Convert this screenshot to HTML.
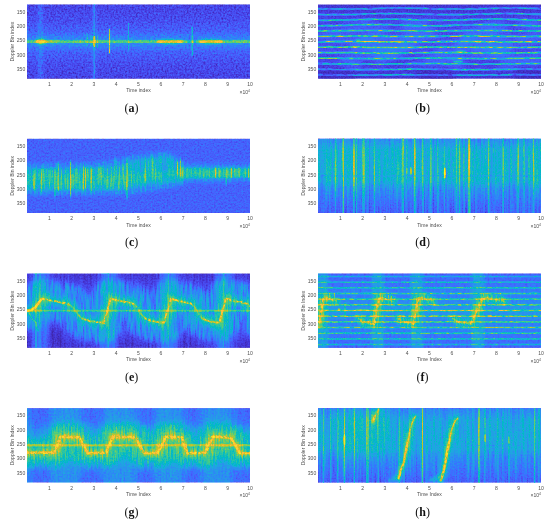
<!DOCTYPE html>
<html><head><meta charset="utf-8"><title>Spectrograms</title>
<style>
html,body{margin:0;padding:0;background:#fff;}
body{width:550px;height:522px;overflow:hidden;}
svg{display:block;}
text{font-family:"Liberation Sans",sans-serif;font-size:5.05px;fill:#505050;}
text.cap{font-family:"Liberation Serif",serif;font-size:12px;fill:#111;}
</style></head><body>
<svg width="550" height="522" viewBox="0 0 550 522">
<defs><filter id="b0" filterUnits="userSpaceOnUse" x="-30" y="-30" width="290" height="140" color-interpolation-filters="sRGB"><feGaussianBlur stdDeviation="0.4"/></filter><filter id="b1" filterUnits="userSpaceOnUse" x="-30" y="-30" width="290" height="140" color-interpolation-filters="sRGB"><feGaussianBlur stdDeviation="0.7"/></filter><filter id="b2" filterUnits="userSpaceOnUse" x="-30" y="-30" width="290" height="140" color-interpolation-filters="sRGB"><feGaussianBlur stdDeviation="1"/></filter><filter id="b3" filterUnits="userSpaceOnUse" x="-30" y="-30" width="290" height="140" color-interpolation-filters="sRGB"><feGaussianBlur stdDeviation="1.5"/></filter><filter id="b4" filterUnits="userSpaceOnUse" x="-30" y="-30" width="290" height="140" color-interpolation-filters="sRGB"><feGaussianBlur stdDeviation="2"/></filter><filter id="b5" filterUnits="userSpaceOnUse" x="-30" y="-30" width="290" height="140" color-interpolation-filters="sRGB"><feGaussianBlur stdDeviation="3"/></filter><filter id="b6" filterUnits="userSpaceOnUse" x="-30" y="-30" width="290" height="140" color-interpolation-filters="sRGB"><feGaussianBlur stdDeviation="5"/></filter><filter id="b7" filterUnits="userSpaceOnUse" x="-30" y="-30" width="290" height="140" color-interpolation-filters="sRGB"><feGaussianBlur stdDeviation="8"/></filter><filter id="bx" filterUnits="userSpaceOnUse" x="-30" y="-30" width="290" height="140" color-interpolation-filters="sRGB"><feGaussianBlur stdDeviation="3 0.6"/></filter><filter id="by" filterUnits="userSpaceOnUse" x="-30" y="-30" width="290" height="140" color-interpolation-filters="sRGB"><feGaussianBlur stdDeviation="0.5 4"/></filter><filter id="by2" filterUnits="userSpaceOnUse" x="-30" y="-30" width="290" height="140" color-interpolation-filters="sRGB"><feGaussianBlur stdDeviation="0.45 1.5"/></filter><filter id="byw" filterUnits="userSpaceOnUse" x="-30" y="-30" width="290" height="140" color-interpolation-filters="sRGB"><feGaussianBlur stdDeviation="3 6"/></filter><linearGradient id="ga" x1="0" y1="0" x2="0" y2="1"><stop offset="0" stop-color="rgb(255,255,255)" stop-opacity="0"/><stop offset="0.2" stop-color="rgb(255,255,255)" stop-opacity="0.03"/><stop offset="0.36" stop-color="rgb(255,255,255)" stop-opacity="0.09"/><stop offset="0.45" stop-color="rgb(255,255,255)" stop-opacity="0.19"/><stop offset="0.5" stop-color="rgb(255,255,255)" stop-opacity="0.27"/><stop offset="0.55" stop-color="rgb(255,255,255)" stop-opacity="0.19"/><stop offset="0.64" stop-color="rgb(255,255,255)" stop-opacity="0.09"/><stop offset="0.8" stop-color="rgb(255,255,255)" stop-opacity="0.03"/><stop offset="1" stop-color="rgb(255,255,255)" stop-opacity="0"/></linearGradient><linearGradient id="gb" x1="0" y1="0" x2="0" y2="1"><stop offset="0" stop-color="rgb(255,255,255)" stop-opacity="0.0"/><stop offset="0.5" stop-color="rgb(255,255,255)" stop-opacity="0.08"/><stop offset="1" stop-color="rgb(255,255,255)" stop-opacity="0.0"/></linearGradient><filter id="spb" filterUnits="userSpaceOnUse" x="-30" y="-30" width="290" height="140" color-interpolation-filters="sRGB"><feTurbulence type="fractalNoise" baseFrequency="0.2 0.6" numOctaves="2" seed="12"/><feColorMatrix type="matrix" values="0 0 0 0 1 0 0 0 0 1 0 0 0 0 1 1.5 0 0 0 -0.1" result="m"/><feComposite in="SourceGraphic" in2="m" operator="in"/><feGaussianBlur stdDeviation="0.5"/></filter><filter id="spb2" filterUnits="userSpaceOnUse" x="-30" y="-30" width="290" height="140" color-interpolation-filters="sRGB"><feTurbulence type="fractalNoise" baseFrequency="0.035 0.06" numOctaves="2" seed="4"/><feColorMatrix type="matrix" values="0 0 0 0 1 0 0 0 0 1 0 0 0 0 1 4.0 0 0 0 -1.5" result="m"/><feComposite in="SourceGraphic" in2="m" operator="in"/><feGaussianBlur stdDeviation="2.0"/></filter><filter id="spc" filterUnits="userSpaceOnUse" x="-30" y="-30" width="290" height="140" color-interpolation-filters="sRGB"><feTurbulence type="fractalNoise" baseFrequency="0.5 0.025" numOctaves="2" seed="21"/><feColorMatrix type="matrix" values="0 0 0 0 1 0 0 0 0 1 0 0 0 0 1 3.6 0 0 0 -1.45" result="m"/><feComposite in="SourceGraphic" in2="m" operator="in"/><feGaussianBlur stdDeviation="0.35"/></filter><filter id="spc2" filterUnits="userSpaceOnUse" x="-30" y="-30" width="290" height="140" color-interpolation-filters="sRGB"><feTurbulence type="fractalNoise" baseFrequency="0.45 0.04" numOctaves="2" seed="8"/><feColorMatrix type="matrix" values="0 0 0 0 1 0 0 0 0 1 0 0 0 0 1 3.5 0 0 0 -1.5" result="m"/><feComposite in="SourceGraphic" in2="m" operator="in"/><feGaussianBlur stdDeviation="0.3"/></filter><linearGradient id="gd" x1="0" y1="0" x2="0" y2="1"><stop offset="0" stop-color="rgb(0,0,0)" stop-opacity="0.08"/><stop offset="0.15" stop-color="rgb(0,0,0)" stop-opacity="0.01"/><stop offset="0.55" stop-color="rgb(0,0,0)" stop-opacity="0"/><stop offset="0.72" stop-color="rgb(0,0,0)" stop-opacity="0.1"/><stop offset="0.85" stop-color="rgb(0,0,0)" stop-opacity="0.2"/><stop offset="1" stop-color="rgb(0,0,0)" stop-opacity="0.28"/></linearGradient><filter id="spe" filterUnits="userSpaceOnUse" x="-30" y="-30" width="290" height="140" color-interpolation-filters="sRGB"><feTurbulence type="fractalNoise" baseFrequency="0.5 0.35" numOctaves="2" seed="33"/><feColorMatrix type="matrix" values="0 0 0 0 1 0 0 0 0 1 0 0 0 0 1 3.0 0 0 0 -0.9" result="m"/><feComposite in="SourceGraphic" in2="m" operator="in"/><feGaussianBlur stdDeviation="0.3"/></filter><filter id="spe2" filterUnits="userSpaceOnUse" x="-30" y="-30" width="290" height="140" color-interpolation-filters="sRGB"><feTurbulence type="fractalNoise" baseFrequency="0.5 0.05" numOctaves="2" seed="14"/><feColorMatrix type="matrix" values="0 0 0 0 1 0 0 0 0 1 0 0 0 0 1 3.0 0 0 0 -1.0" result="m"/><feComposite in="SourceGraphic" in2="m" operator="in"/><feGaussianBlur stdDeviation="0.5"/></filter><linearGradient id="gf" x1="0" y1="0" x2="0" y2="1"><stop offset="0" stop-color="rgb(0,0,0)" stop-opacity="0.3"/><stop offset="0.2" stop-color="rgb(0,0,0)" stop-opacity="0.05"/><stop offset="0.3" stop-color="rgb(255,255,255)" stop-opacity="0.0"/><stop offset="0.5" stop-color="rgb(255,255,255)" stop-opacity="0.1"/><stop offset="0.7" stop-color="rgb(255,255,255)" stop-opacity="0.0"/><stop offset="0.8" stop-color="rgb(0,0,0)" stop-opacity="0.05"/><stop offset="1" stop-color="rgb(0,0,0)" stop-opacity="0.25"/></linearGradient><filter id="spf" filterUnits="userSpaceOnUse" x="-30" y="-30" width="290" height="140" color-interpolation-filters="sRGB"><feTurbulence type="fractalNoise" baseFrequency="0.25 0.6" numOctaves="2" seed="41"/><feColorMatrix type="matrix" values="0 0 0 0 1 0 0 0 0 1 0 0 0 0 1 1.4 0 0 0 -0.05" result="m"/><feComposite in="SourceGraphic" in2="m" operator="in"/><feGaussianBlur stdDeviation="0.4"/></filter><filter id="spf2" filterUnits="userSpaceOnUse" x="-30" y="-30" width="290" height="140" color-interpolation-filters="sRGB"><feTurbulence type="fractalNoise" baseFrequency="0.5 0.4" numOctaves="2" seed="19"/><feColorMatrix type="matrix" values="0 0 0 0 1 0 0 0 0 1 0 0 0 0 1 3.0 0 0 0 -0.85" result="m"/><feComposite in="SourceGraphic" in2="m" operator="in"/><feGaussianBlur stdDeviation="0.45"/></filter><filter id="spf3" filterUnits="userSpaceOnUse" x="-30" y="-30" width="290" height="140" color-interpolation-filters="sRGB"><feTurbulence type="fractalNoise" baseFrequency="0.6 0.07" numOctaves="2" seed="27"/><feColorMatrix type="matrix" values="0 0 0 0 1 0 0 0 0 1 0 0 0 0 1 3.4 0 0 0 -1.2" result="m"/><feComposite in="SourceGraphic" in2="m" operator="in"/><feGaussianBlur stdDeviation="0.4"/></filter><filter id="spg" filterUnits="userSpaceOnUse" x="-30" y="-30" width="290" height="140" color-interpolation-filters="sRGB"><feTurbulence type="fractalNoise" baseFrequency="0.5 0.4" numOctaves="2" seed="51"/><feColorMatrix type="matrix" values="0 0 0 0 1 0 0 0 0 1 0 0 0 0 1 3.0 0 0 0 -0.8" result="m"/><feComposite in="SourceGraphic" in2="m" operator="in"/><feGaussianBlur stdDeviation="0.4"/></filter><filter id="spg2" filterUnits="userSpaceOnUse" x="-30" y="-30" width="290" height="140" color-interpolation-filters="sRGB"><feTurbulence type="fractalNoise" baseFrequency="0.6 0.06" numOctaves="2" seed="57"/><feColorMatrix type="matrix" values="0 0 0 0 1 0 0 0 0 1 0 0 0 0 1 3.4 0 0 0 -1.2" result="m"/><feComposite in="SourceGraphic" in2="m" operator="in"/><feGaussianBlur stdDeviation="0.4"/></filter><linearGradient id="gh" x1="0" y1="0" x2="0" y2="1"><stop offset="0" stop-color="rgb(0,0,0)" stop-opacity="0.08"/><stop offset="0.18" stop-color="rgb(0,0,0)" stop-opacity="0.01"/><stop offset="0.55" stop-color="rgb(0,0,0)" stop-opacity="0"/><stop offset="0.75" stop-color="rgb(0,0,0)" stop-opacity="0.1"/><stop offset="0.9" stop-color="rgb(0,0,0)" stop-opacity="0.2"/><stop offset="1" stop-color="rgb(0,0,0)" stop-opacity="0.28"/></linearGradient><filter id="sph" filterUnits="userSpaceOnUse" x="-30" y="-30" width="290" height="140" color-interpolation-filters="sRGB"><feTurbulence type="fractalNoise" baseFrequency="0.5 0.4" numOctaves="2" seed="61"/><feColorMatrix type="matrix" values="0 0 0 0 1 0 0 0 0 1 0 0 0 0 1 2.6 0 0 0 -0.5" result="m"/><feComposite in="SourceGraphic" in2="m" operator="in"/><feGaussianBlur stdDeviation="0.35"/></filter><filter id="fa" filterUnits="userSpaceOnUse" x="27" y="4.6" width="223" height="74" color-interpolation-filters="sRGB"><feTurbulence type="fractalNoise" baseFrequency="0.55" numOctaves="2" seed="3" result="n"/><feColorMatrix in="n" type="matrix" values="1 0 0 0 0 1 0 0 0 0 1 0 0 0 0 0 0 0 0 1" result="ng"/><feComposite in="SourceGraphic" in2="ng" operator="arithmetic" k1="0" k2="1" k3="0.32" k4="-0.16" result="s"/><feComponentTransfer in="s"><feFuncR type="table" tableValues="0.242 0.250 0.258 0.265 0.271 0.275 0.278 0.280 0.281 0.281 0.280 0.276 0.270 0.260 0.244 0.221 0.196 0.183 0.179 0.176 0.169 0.154 0.146 0.138 0.125 0.111 0.095 0.069 0.030 0.004 0.007 0.043 0.096 0.141 0.172 0.194 0.216 0.247 0.291 0.341 0.391 0.446 0.504 0.562 0.617 0.672 0.724 0.774 0.820 0.863 0.903 0.939 0.973 0.996 0.997 0.995 0.989 0.979 0.968 0.961 0.960 0.963 0.969 0.977"/><feFuncG type="table" tableValues="0.150 0.165 0.182 0.198 0.215 0.234 0.256 0.278 0.301 0.323 0.345 0.367 0.389 0.412 0.436 0.460 0.485 0.507 0.529 0.550 0.570 0.590 0.609 0.628 0.646 0.663 0.680 0.695 0.708 0.720 0.731 0.741 0.750 0.758 0.767 0.776 0.784 0.792 0.797 0.801 0.803 0.802 0.799 0.794 0.788 0.779 0.770 0.760 0.750 0.741 0.733 0.729 0.730 0.743 0.766 0.789 0.814 0.839 0.864 0.889 0.913 0.937 0.961 0.984"/><feFuncB type="table" tableValues="0.660 0.708 0.751 0.795 0.836 0.871 0.899 0.922 0.941 0.958 0.972 0.983 0.991 0.995 0.999 0.997 0.989 0.980 0.968 0.952 0.936 0.922 0.908 0.897 0.888 0.876 0.860 0.839 0.816 0.792 0.766 0.739 0.712 0.684 0.655 0.625 0.592 0.557 0.519 0.479 0.435 0.391 0.348 0.304 0.261 0.223 0.191 0.165 0.153 0.160 0.177 0.210 0.239 0.237 0.220 0.203 0.189 0.177 0.164 0.154 0.142 0.127 0.106 0.081"/></feComponentTransfer></filter><filter id="fb" filterUnits="userSpaceOnUse" x="318" y="4.6" width="223" height="74" color-interpolation-filters="sRGB"><feTurbulence type="fractalNoise" baseFrequency="0.6" numOctaves="2" seed="5" result="n"/><feColorMatrix in="n" type="matrix" values="1 0 0 0 0 1 0 0 0 0 1 0 0 0 0 0 0 0 0 1" result="ng"/><feComposite in="SourceGraphic" in2="ng" operator="arithmetic" k1="0" k2="1" k3="0.16" k4="-0.08" result="s"/><feComponentTransfer in="s"><feFuncR type="table" tableValues="0.242 0.250 0.258 0.265 0.271 0.275 0.278 0.280 0.281 0.281 0.280 0.276 0.270 0.260 0.244 0.221 0.196 0.183 0.179 0.176 0.169 0.154 0.146 0.138 0.125 0.111 0.095 0.069 0.030 0.004 0.007 0.043 0.096 0.141 0.172 0.194 0.216 0.247 0.291 0.341 0.391 0.446 0.504 0.562 0.617 0.672 0.724 0.774 0.820 0.863 0.903 0.939 0.973 0.996 0.997 0.995 0.989 0.979 0.968 0.961 0.960 0.963 0.969 0.977"/><feFuncG type="table" tableValues="0.150 0.165 0.182 0.198 0.215 0.234 0.256 0.278 0.301 0.323 0.345 0.367 0.389 0.412 0.436 0.460 0.485 0.507 0.529 0.550 0.570 0.590 0.609 0.628 0.646 0.663 0.680 0.695 0.708 0.720 0.731 0.741 0.750 0.758 0.767 0.776 0.784 0.792 0.797 0.801 0.803 0.802 0.799 0.794 0.788 0.779 0.770 0.760 0.750 0.741 0.733 0.729 0.730 0.743 0.766 0.789 0.814 0.839 0.864 0.889 0.913 0.937 0.961 0.984"/><feFuncB type="table" tableValues="0.660 0.708 0.751 0.795 0.836 0.871 0.899 0.922 0.941 0.958 0.972 0.983 0.991 0.995 0.999 0.997 0.989 0.980 0.968 0.952 0.936 0.922 0.908 0.897 0.888 0.876 0.860 0.839 0.816 0.792 0.766 0.739 0.712 0.684 0.655 0.625 0.592 0.557 0.519 0.479 0.435 0.391 0.348 0.304 0.261 0.223 0.191 0.165 0.153 0.160 0.177 0.210 0.239 0.237 0.220 0.203 0.189 0.177 0.164 0.154 0.142 0.127 0.106 0.081"/></feComponentTransfer></filter><filter id="fc" filterUnits="userSpaceOnUse" x="27" y="138.9" width="223" height="74" color-interpolation-filters="sRGB"><feTurbulence type="fractalNoise" baseFrequency="0.55" numOctaves="2" seed="11" result="n"/><feColorMatrix in="n" type="matrix" values="1 0 0 0 0 1 0 0 0 0 1 0 0 0 0 0 0 0 0 1" result="ng"/><feComposite in="SourceGraphic" in2="ng" operator="arithmetic" k1="0" k2="1" k3="0.24" k4="-0.12" result="s"/><feComponentTransfer in="s"><feFuncR type="table" tableValues="0.242 0.250 0.258 0.265 0.271 0.275 0.278 0.280 0.281 0.281 0.280 0.276 0.270 0.260 0.244 0.221 0.196 0.183 0.179 0.176 0.169 0.154 0.146 0.138 0.125 0.111 0.095 0.069 0.030 0.004 0.007 0.043 0.096 0.141 0.172 0.194 0.216 0.247 0.291 0.341 0.391 0.446 0.504 0.562 0.617 0.672 0.724 0.774 0.820 0.863 0.903 0.939 0.973 0.996 0.997 0.995 0.989 0.979 0.968 0.961 0.960 0.963 0.969 0.977"/><feFuncG type="table" tableValues="0.150 0.165 0.182 0.198 0.215 0.234 0.256 0.278 0.301 0.323 0.345 0.367 0.389 0.412 0.436 0.460 0.485 0.507 0.529 0.550 0.570 0.590 0.609 0.628 0.646 0.663 0.680 0.695 0.708 0.720 0.731 0.741 0.750 0.758 0.767 0.776 0.784 0.792 0.797 0.801 0.803 0.802 0.799 0.794 0.788 0.779 0.770 0.760 0.750 0.741 0.733 0.729 0.730 0.743 0.766 0.789 0.814 0.839 0.864 0.889 0.913 0.937 0.961 0.984"/><feFuncB type="table" tableValues="0.660 0.708 0.751 0.795 0.836 0.871 0.899 0.922 0.941 0.958 0.972 0.983 0.991 0.995 0.999 0.997 0.989 0.980 0.968 0.952 0.936 0.922 0.908 0.897 0.888 0.876 0.860 0.839 0.816 0.792 0.766 0.739 0.712 0.684 0.655 0.625 0.592 0.557 0.519 0.479 0.435 0.391 0.348 0.304 0.261 0.223 0.191 0.165 0.153 0.160 0.177 0.210 0.239 0.237 0.220 0.203 0.189 0.177 0.164 0.154 0.142 0.127 0.106 0.081"/></feComponentTransfer></filter><filter id="fd" filterUnits="userSpaceOnUse" x="318" y="138.9" width="223" height="74" color-interpolation-filters="sRGB"><feTurbulence type="fractalNoise" baseFrequency="0.6" numOctaves="2" seed="17" result="n"/><feColorMatrix in="n" type="matrix" values="1 0 0 0 0 1 0 0 0 0 1 0 0 0 0 0 0 0 0 1" result="ng"/><feComposite in="SourceGraphic" in2="ng" operator="arithmetic" k1="0" k2="1" k3="0.22" k4="-0.11" result="s"/><feTurbulence type="fractalNoise" baseFrequency="0.55 0.02" numOctaves="2" seed="4" result="m"/><feColorMatrix in="m" type="matrix" values="1 0 0 0 0 1 0 0 0 0 1 0 0 0 0 0 0 0 0 1" result="mg"/><feComposite in="s" in2="mg" operator="arithmetic" k1="0" k2="1" k3="0.3" k4="-0.15" result="s"/><feComponentTransfer in="s"><feFuncR type="table" tableValues="0.242 0.250 0.258 0.265 0.271 0.275 0.278 0.280 0.281 0.281 0.280 0.276 0.270 0.260 0.244 0.221 0.196 0.183 0.179 0.176 0.169 0.154 0.146 0.138 0.125 0.111 0.095 0.069 0.030 0.004 0.007 0.043 0.096 0.141 0.172 0.194 0.216 0.247 0.291 0.341 0.391 0.446 0.504 0.562 0.617 0.672 0.724 0.774 0.820 0.863 0.903 0.939 0.973 0.996 0.997 0.995 0.989 0.979 0.968 0.961 0.960 0.963 0.969 0.977"/><feFuncG type="table" tableValues="0.150 0.165 0.182 0.198 0.215 0.234 0.256 0.278 0.301 0.323 0.345 0.367 0.389 0.412 0.436 0.460 0.485 0.507 0.529 0.550 0.570 0.590 0.609 0.628 0.646 0.663 0.680 0.695 0.708 0.720 0.731 0.741 0.750 0.758 0.767 0.776 0.784 0.792 0.797 0.801 0.803 0.802 0.799 0.794 0.788 0.779 0.770 0.760 0.750 0.741 0.733 0.729 0.730 0.743 0.766 0.789 0.814 0.839 0.864 0.889 0.913 0.937 0.961 0.984"/><feFuncB type="table" tableValues="0.660 0.708 0.751 0.795 0.836 0.871 0.899 0.922 0.941 0.958 0.972 0.983 0.991 0.995 0.999 0.997 0.989 0.980 0.968 0.952 0.936 0.922 0.908 0.897 0.888 0.876 0.860 0.839 0.816 0.792 0.766 0.739 0.712 0.684 0.655 0.625 0.592 0.557 0.519 0.479 0.435 0.391 0.348 0.304 0.261 0.223 0.191 0.165 0.153 0.160 0.177 0.210 0.239 0.237 0.220 0.203 0.189 0.177 0.164 0.154 0.142 0.127 0.106 0.081"/></feComponentTransfer></filter><filter id="fe" filterUnits="userSpaceOnUse" x="27" y="273.7" width="223" height="74" color-interpolation-filters="sRGB"><feTurbulence type="fractalNoise" baseFrequency="0.6" numOctaves="2" seed="23" result="n"/><feColorMatrix in="n" type="matrix" values="1 0 0 0 0 1 0 0 0 0 1 0 0 0 0 0 0 0 0 1" result="ng"/><feComposite in="SourceGraphic" in2="ng" operator="arithmetic" k1="0" k2="1" k3="0.16" k4="-0.08" result="s"/><feTurbulence type="fractalNoise" baseFrequency="0.5 0.04" numOctaves="2" seed="9" result="m"/><feColorMatrix in="m" type="matrix" values="1 0 0 0 0 1 0 0 0 0 1 0 0 0 0 0 0 0 0 1" result="mg"/><feComposite in="s" in2="mg" operator="arithmetic" k1="0" k2="1" k3="0.16" k4="-0.08" result="s"/><feComponentTransfer in="s"><feFuncR type="table" tableValues="0.242 0.250 0.258 0.265 0.271 0.275 0.278 0.280 0.281 0.281 0.280 0.276 0.270 0.260 0.244 0.221 0.196 0.183 0.179 0.176 0.169 0.154 0.146 0.138 0.125 0.111 0.095 0.069 0.030 0.004 0.007 0.043 0.096 0.141 0.172 0.194 0.216 0.247 0.291 0.341 0.391 0.446 0.504 0.562 0.617 0.672 0.724 0.774 0.820 0.863 0.903 0.939 0.973 0.996 0.997 0.995 0.989 0.979 0.968 0.961 0.960 0.963 0.969 0.977"/><feFuncG type="table" tableValues="0.150 0.165 0.182 0.198 0.215 0.234 0.256 0.278 0.301 0.323 0.345 0.367 0.389 0.412 0.436 0.460 0.485 0.507 0.529 0.550 0.570 0.590 0.609 0.628 0.646 0.663 0.680 0.695 0.708 0.720 0.731 0.741 0.750 0.758 0.767 0.776 0.784 0.792 0.797 0.801 0.803 0.802 0.799 0.794 0.788 0.779 0.770 0.760 0.750 0.741 0.733 0.729 0.730 0.743 0.766 0.789 0.814 0.839 0.864 0.889 0.913 0.937 0.961 0.984"/><feFuncB type="table" tableValues="0.660 0.708 0.751 0.795 0.836 0.871 0.899 0.922 0.941 0.958 0.972 0.983 0.991 0.995 0.999 0.997 0.989 0.980 0.968 0.952 0.936 0.922 0.908 0.897 0.888 0.876 0.860 0.839 0.816 0.792 0.766 0.739 0.712 0.684 0.655 0.625 0.592 0.557 0.519 0.479 0.435 0.391 0.348 0.304 0.261 0.223 0.191 0.165 0.153 0.160 0.177 0.210 0.239 0.237 0.220 0.203 0.189 0.177 0.164 0.154 0.142 0.127 0.106 0.081"/></feComponentTransfer></filter><filter id="ff" filterUnits="userSpaceOnUse" x="318" y="273.7" width="223" height="74" color-interpolation-filters="sRGB"><feTurbulence type="fractalNoise" baseFrequency="0.5" numOctaves="2" seed="29" result="n"/><feColorMatrix in="n" type="matrix" values="1 0 0 0 0 1 0 0 0 0 1 0 0 0 0 0 0 0 0 1" result="ng"/><feComposite in="SourceGraphic" in2="ng" operator="arithmetic" k1="0" k2="1" k3="0.2" k4="-0.1" result="s"/><feTurbulence type="fractalNoise" baseFrequency="0.5 0.05" numOctaves="2" seed="2" result="m"/><feColorMatrix in="m" type="matrix" values="1 0 0 0 0 1 0 0 0 0 1 0 0 0 0 0 0 0 0 1" result="mg"/><feComposite in="s" in2="mg" operator="arithmetic" k1="0" k2="1" k3="0.1" k4="-0.05" result="s"/><feComponentTransfer in="s"><feFuncR type="table" tableValues="0.242 0.250 0.258 0.265 0.271 0.275 0.278 0.280 0.281 0.281 0.280 0.276 0.270 0.260 0.244 0.221 0.196 0.183 0.179 0.176 0.169 0.154 0.146 0.138 0.125 0.111 0.095 0.069 0.030 0.004 0.007 0.043 0.096 0.141 0.172 0.194 0.216 0.247 0.291 0.341 0.391 0.446 0.504 0.562 0.617 0.672 0.724 0.774 0.820 0.863 0.903 0.939 0.973 0.996 0.997 0.995 0.989 0.979 0.968 0.961 0.960 0.963 0.969 0.977"/><feFuncG type="table" tableValues="0.150 0.165 0.182 0.198 0.215 0.234 0.256 0.278 0.301 0.323 0.345 0.367 0.389 0.412 0.436 0.460 0.485 0.507 0.529 0.550 0.570 0.590 0.609 0.628 0.646 0.663 0.680 0.695 0.708 0.720 0.731 0.741 0.750 0.758 0.767 0.776 0.784 0.792 0.797 0.801 0.803 0.802 0.799 0.794 0.788 0.779 0.770 0.760 0.750 0.741 0.733 0.729 0.730 0.743 0.766 0.789 0.814 0.839 0.864 0.889 0.913 0.937 0.961 0.984"/><feFuncB type="table" tableValues="0.660 0.708 0.751 0.795 0.836 0.871 0.899 0.922 0.941 0.958 0.972 0.983 0.991 0.995 0.999 0.997 0.989 0.980 0.968 0.952 0.936 0.922 0.908 0.897 0.888 0.876 0.860 0.839 0.816 0.792 0.766 0.739 0.712 0.684 0.655 0.625 0.592 0.557 0.519 0.479 0.435 0.391 0.348 0.304 0.261 0.223 0.191 0.165 0.153 0.160 0.177 0.210 0.239 0.237 0.220 0.203 0.189 0.177 0.164 0.154 0.142 0.127 0.106 0.081"/></feComponentTransfer></filter><filter id="fg" filterUnits="userSpaceOnUse" x="27" y="408.3" width="223" height="74" color-interpolation-filters="sRGB"><feTurbulence type="fractalNoise" baseFrequency="0.55" numOctaves="2" seed="31" result="n"/><feColorMatrix in="n" type="matrix" values="1 0 0 0 0 1 0 0 0 0 1 0 0 0 0 0 0 0 0 1" result="ng"/><feComposite in="SourceGraphic" in2="ng" operator="arithmetic" k1="0" k2="1" k3="0.22" k4="-0.11" result="s"/><feTurbulence type="fractalNoise" baseFrequency="0.5 0.05" numOctaves="2" seed="6" result="m"/><feColorMatrix in="m" type="matrix" values="1 0 0 0 0 1 0 0 0 0 1 0 0 0 0 0 0 0 0 1" result="mg"/><feComposite in="s" in2="mg" operator="arithmetic" k1="0" k2="1" k3="0.14" k4="-0.07" result="s"/><feComponentTransfer in="s"><feFuncR type="table" tableValues="0.242 0.250 0.258 0.265 0.271 0.275 0.278 0.280 0.281 0.281 0.280 0.276 0.270 0.260 0.244 0.221 0.196 0.183 0.179 0.176 0.169 0.154 0.146 0.138 0.125 0.111 0.095 0.069 0.030 0.004 0.007 0.043 0.096 0.141 0.172 0.194 0.216 0.247 0.291 0.341 0.391 0.446 0.504 0.562 0.617 0.672 0.724 0.774 0.820 0.863 0.903 0.939 0.973 0.996 0.997 0.995 0.989 0.979 0.968 0.961 0.960 0.963 0.969 0.977"/><feFuncG type="table" tableValues="0.150 0.165 0.182 0.198 0.215 0.234 0.256 0.278 0.301 0.323 0.345 0.367 0.389 0.412 0.436 0.460 0.485 0.507 0.529 0.550 0.570 0.590 0.609 0.628 0.646 0.663 0.680 0.695 0.708 0.720 0.731 0.741 0.750 0.758 0.767 0.776 0.784 0.792 0.797 0.801 0.803 0.802 0.799 0.794 0.788 0.779 0.770 0.760 0.750 0.741 0.733 0.729 0.730 0.743 0.766 0.789 0.814 0.839 0.864 0.889 0.913 0.937 0.961 0.984"/><feFuncB type="table" tableValues="0.660 0.708 0.751 0.795 0.836 0.871 0.899 0.922 0.941 0.958 0.972 0.983 0.991 0.995 0.999 0.997 0.989 0.980 0.968 0.952 0.936 0.922 0.908 0.897 0.888 0.876 0.860 0.839 0.816 0.792 0.766 0.739 0.712 0.684 0.655 0.625 0.592 0.557 0.519 0.479 0.435 0.391 0.348 0.304 0.261 0.223 0.191 0.165 0.153 0.160 0.177 0.210 0.239 0.237 0.220 0.203 0.189 0.177 0.164 0.154 0.142 0.127 0.106 0.081"/></feComponentTransfer></filter><filter id="fh" filterUnits="userSpaceOnUse" x="318" y="408.3" width="223" height="74" color-interpolation-filters="sRGB"><feTurbulence type="fractalNoise" baseFrequency="0.6" numOctaves="2" seed="37" result="n"/><feColorMatrix in="n" type="matrix" values="1 0 0 0 0 1 0 0 0 0 1 0 0 0 0 0 0 0 0 1" result="ng"/><feComposite in="SourceGraphic" in2="ng" operator="arithmetic" k1="0" k2="1" k3="0.2" k4="-0.1" result="s"/><feTurbulence type="fractalNoise" baseFrequency="0.55 0.025" numOctaves="2" seed="8" result="m"/><feColorMatrix in="m" type="matrix" values="1 0 0 0 0 1 0 0 0 0 1 0 0 0 0 0 0 0 0 1" result="mg"/><feComposite in="s" in2="mg" operator="arithmetic" k1="0" k2="1" k3="0.24" k4="-0.12" result="s"/><feComponentTransfer in="s"><feFuncR type="table" tableValues="0.242 0.250 0.258 0.265 0.271 0.275 0.278 0.280 0.281 0.281 0.280 0.276 0.270 0.260 0.244 0.221 0.196 0.183 0.179 0.176 0.169 0.154 0.146 0.138 0.125 0.111 0.095 0.069 0.030 0.004 0.007 0.043 0.096 0.141 0.172 0.194 0.216 0.247 0.291 0.341 0.391 0.446 0.504 0.562 0.617 0.672 0.724 0.774 0.820 0.863 0.903 0.939 0.973 0.996 0.997 0.995 0.989 0.979 0.968 0.961 0.960 0.963 0.969 0.977"/><feFuncG type="table" tableValues="0.150 0.165 0.182 0.198 0.215 0.234 0.256 0.278 0.301 0.323 0.345 0.367 0.389 0.412 0.436 0.460 0.485 0.507 0.529 0.550 0.570 0.590 0.609 0.628 0.646 0.663 0.680 0.695 0.708 0.720 0.731 0.741 0.750 0.758 0.767 0.776 0.784 0.792 0.797 0.801 0.803 0.802 0.799 0.794 0.788 0.779 0.770 0.760 0.750 0.741 0.733 0.729 0.730 0.743 0.766 0.789 0.814 0.839 0.864 0.889 0.913 0.937 0.961 0.984"/><feFuncB type="table" tableValues="0.660 0.708 0.751 0.795 0.836 0.871 0.899 0.922 0.941 0.958 0.972 0.983 0.991 0.995 0.999 0.997 0.989 0.980 0.968 0.952 0.936 0.922 0.908 0.897 0.888 0.876 0.860 0.839 0.816 0.792 0.766 0.739 0.712 0.684 0.655 0.625 0.592 0.557 0.519 0.479 0.435 0.391 0.348 0.304 0.261 0.223 0.191 0.165 0.153 0.160 0.177 0.210 0.239 0.237 0.220 0.203 0.189 0.177 0.164 0.154 0.142 0.127 0.106 0.081"/></feComponentTransfer></filter></defs>
<rect width="550" height="522" fill="#fff"/>
<g filter="url(#fa)"><g transform="translate(27,4.6)"><rect x="0.0" y="0.0" width="223.0" height="74.0" fill="rgb(26,26,26)" opacity="1"/><rect x="0" y="0" width="223" height="74" fill="url(#ga)"/><rect x="-5.0" y="35.6" width="233.0" height="2.8" fill="rgb(255,255,255)" opacity="0.42" filter="url(#b1)"/><rect x="11.00" y="-5.0" width="5" height="84.0" fill="rgb(255,255,255)" opacity="0.1" filter="url(#b3)"/><rect x="66.70" y="-3.0" width="1.0" height="80.0" fill="rgb(255,255,255)" opacity="0.22" filter="url(#b0)"/><rect x="64.70" y="-3.0" width="5" height="80.0" fill="rgb(255,255,255)" opacity="0.06" filter="url(#b2)"/><ellipse cx="14.0" cy="37.0" rx="5.5" ry="2.4" fill="rgb(255,255,255)" opacity="0.8" filter="url(#b2)"/><ellipse cx="24.0" cy="37.0" rx="9.0" ry="1.6" fill="rgb(255,255,255)" opacity="0.3" filter="url(#b2)"/><ellipse cx="53.0" cy="37.0" rx="6.0" ry="1.2" fill="rgb(255,255,255)" opacity="0.2" filter="url(#b2)"/><ellipse cx="67.2" cy="37.0" rx="1.6" ry="6.0" fill="rgb(255,255,255)" opacity="0.6" filter="url(#b1)"/><rect x="59.75" y="29.0" width="0.9" height="13.0" fill="rgb(255,255,255)" opacity="0.4" filter="url(#b0)"/><rect x="63.55" y="31.0" width="0.9" height="11.0" fill="rgb(255,255,255)" opacity="0.4" filter="url(#b0)"/><rect x="70.05" y="31.0" width="0.9" height="12.0" fill="rgb(255,255,255)" opacity="0.4" filter="url(#b0)"/><rect x="81.90" y="24.0" width="1.2" height="25.0" fill="rgb(255,255,255)" opacity="0.7" filter="url(#b0)"/><rect x="100.95" y="18.0" width="0.9" height="28.0" fill="rgb(255,255,255)" opacity="0.3" filter="url(#b0)"/><ellipse cx="143.0" cy="37.0" rx="13.0" ry="2.0" fill="rgb(255,255,255)" opacity="0.5" filter="url(#b2)"/><ellipse cx="134.0" cy="37.0" rx="4.0" ry="1.6" fill="rgb(255,255,255)" opacity="0.35" filter="url(#b1)"/><ellipse cx="153.0" cy="37.0" rx="4.0" ry="1.6" fill="rgb(255,255,255)" opacity="0.35" filter="url(#b1)"/><rect x="164.70" y="22.0" width="1.0" height="29.0" fill="rgb(255,255,255)" opacity="0.45" filter="url(#b0)"/><rect x="161.50" y="33.0" width="2" height="8.0" fill="rgb(0,0,0)" opacity="0.3" filter="url(#b1)"/><rect x="167.00" y="33.0" width="2" height="8.0" fill="rgb(0,0,0)" opacity="0.3" filter="url(#b1)"/><ellipse cx="183.0" cy="37.0" rx="12.0" ry="2.0" fill="rgb(255,255,255)" opacity="0.5" filter="url(#b2)"/><ellipse cx="176.0" cy="37.0" rx="4.0" ry="1.6" fill="rgb(255,255,255)" opacity="0.35" filter="url(#b1)"/><ellipse cx="192.0" cy="37.0" rx="4.0" ry="1.8" fill="rgb(255,255,255)" opacity="0.45" filter="url(#b1)"/><ellipse cx="212.0" cy="37.0" rx="10.0" ry="1.2" fill="rgb(255,255,255)" opacity="0.15" filter="url(#b2)"/></g></g><g filter="url(#fb)"><g transform="translate(318,4.6)"><rect x="0.0" y="0.0" width="223.0" height="74.0" fill="rgb(15,15,15)" opacity="1"/><rect x="0" y="0" width="223" height="74" fill="url(#gb)"/><g filter="url(#spb)"><polyline points="-4.0,3.9 2.0,4.1 8.0,4.3 14.0,4.4 20.0,4.5 26.0,4.6 32.0,4.6 38.0,4.5 44.0,4.4 50.0,4.2 56.0,4.0 62.0,3.8 68.0,3.6 74.0,3.5 80.0,3.4 86.0,3.4 92.0,3.5 98.0,3.6 104.0,3.8 110.0,3.9 116.0,4.2 122.0,4.3 128.0,4.5 134.0,4.6 140.0,4.6 146.0,4.6 152.0,4.5 158.0,4.3 164.0,4.1 170.0,3.9 176.0,3.7 182.0,3.6 188.0,3.4 194.0,3.4 200.0,3.4 206.0,3.5 212.0,3.7 218.0,3.8 224.0,4.0 230.0,4.2" fill="none" stroke="rgb(255,255,255)" stroke-width="1.7" opacity="0.46081081081081077" stroke-linejoin="round" stroke-linecap="round" /><polyline points="-4.0,9.7 2.0,9.9 8.0,10.0 14.0,10.1 20.0,10.1 26.0,10.1 32.0,10.0 38.0,9.8 44.0,9.6 50.0,9.4 56.0,9.2 62.0,9.1 68.0,9.0 74.0,8.9 80.0,9.0 86.0,9.0 92.0,9.2 98.0,9.4 104.0,9.6 110.0,9.8 116.0,9.9 122.0,10.1 128.0,10.1 134.0,10.1 140.0,10.0 146.0,9.9 152.0,9.7 158.0,9.5 164.0,9.3 170.0,9.2 176.0,9.0 182.0,8.9 188.0,8.9 194.0,9.0 200.0,9.1 206.0,9.3 212.0,9.5 218.0,9.7 224.0,9.8 230.0,10.0" fill="none" stroke="rgb(255,255,255)" stroke-width="1.7" opacity="0.5205945945945946" stroke-linejoin="round" stroke-linecap="round" /><polyline points="-4.0,15.5 2.0,15.6 8.0,15.7 14.0,15.6 20.0,15.6 26.0,15.4 32.0,15.3 38.0,15.1 44.0,14.9 50.0,14.7 56.0,14.6 62.0,14.5 68.0,14.5 74.0,14.5 80.0,14.6 86.0,14.8 92.0,15.0 98.0,15.2 104.0,15.4 110.0,15.5 116.0,15.6 122.0,15.7 128.0,15.6 134.0,15.5 140.0,15.4 146.0,15.2 152.0,15.0 158.0,14.8 164.0,14.6 170.0,14.5 176.0,14.5 182.0,14.5 188.0,14.6 194.0,14.7 200.0,14.9 206.0,15.1 212.0,15.3 218.0,15.5 224.0,15.6 230.0,15.7" fill="none" stroke="rgb(255,255,255)" stroke-width="1.7" opacity="0.5803783783783785" stroke-linejoin="round" stroke-linecap="round" /><polyline points="-4.0,21.2 2.0,21.2 8.0,21.1 14.0,21.0 20.0,20.9 26.0,20.7 32.0,20.5 38.0,20.3 44.0,20.1 50.0,20.0 56.0,20.0 62.0,20.0 68.0,20.1 74.0,20.2 80.0,20.4 86.0,20.6 92.0,20.8 98.0,21.0 104.0,21.1 110.0,21.2 116.0,21.2 122.0,21.1 128.0,21.0 134.0,20.8 140.0,20.6 146.0,20.4 152.0,20.2 158.0,20.1 164.0,20.0 170.0,20.0 176.0,20.0 182.0,20.2 188.0,20.3 194.0,20.5 200.0,20.7 206.0,20.9 212.0,21.1 218.0,21.2 224.0,21.2 230.0,21.2" fill="none" stroke="rgb(255,255,255)" stroke-width="1.7" opacity="0.6401621621621622" stroke-linejoin="round" stroke-linecap="round" /><polyline points="-4.0,26.4 2.0,26.3 8.0,26.3 14.0,26.2 20.0,26.1 26.0,26.0 32.0,26.0 38.0,25.9 44.0,25.9 50.0,25.9 56.0,25.9 62.0,25.9 68.0,26.0 74.0,26.1 80.0,26.2 86.0,26.2 92.0,26.3 98.0,26.3 104.0,26.4 110.0,26.3 116.0,26.3 122.0,26.2 128.0,26.2 134.0,26.1 140.0,26.0 146.0,25.9 152.0,25.9 158.0,25.9 164.0,25.9 170.0,25.9 176.0,26.0 182.0,26.0 188.0,26.1 194.0,26.2 200.0,26.3 206.0,26.3 212.0,26.4 218.0,26.4 224.0,26.3 230.0,26.3" fill="none" stroke="rgb(255,255,255)" stroke-width="1.7" opacity="0.699945945945946" stroke-linejoin="round" stroke-linecap="round" /><polyline points="-4.0,31.8 2.0,31.8 8.0,31.7 14.0,31.6 20.0,31.5 26.0,31.5 32.0,31.4 38.0,31.4 44.0,31.4 50.0,31.5 56.0,31.5 62.0,31.6 68.0,31.7 74.0,31.7 80.0,31.8 86.0,31.9 92.0,31.9 98.0,31.9 104.0,31.9 110.0,31.8 116.0,31.7 122.0,31.7 128.0,31.6 134.0,31.5 140.0,31.5 146.0,31.4 152.0,31.4 158.0,31.4 164.0,31.5 170.0,31.5 176.0,31.6 182.0,31.7 188.0,31.8 194.0,31.8 200.0,31.9 206.0,31.9 212.0,31.9 218.0,31.8 224.0,31.8 230.0,31.7" fill="none" stroke="rgb(255,255,255)" stroke-width="1.7" opacity="0.7597297297297297" stroke-linejoin="round" stroke-linecap="round" /><polyline points="-4.0,37.3 2.0,37.2 8.0,37.1 14.0,37.0 20.0,37.0 26.0,36.9 32.0,36.9 38.0,37.0 44.0,37.0 50.0,37.1 56.0,37.1 62.0,37.2 68.0,37.3 74.0,37.4 80.0,37.4 86.0,37.4 92.0,37.4 98.0,37.4 104.0,37.3 110.0,37.2 116.0,37.2 122.0,37.1 128.0,37.0 134.0,37.0 140.0,36.9 146.0,36.9 152.0,37.0 158.0,37.0 164.0,37.1 170.0,37.2 176.0,37.3 182.0,37.3 188.0,37.4 194.0,37.4 200.0,37.4 206.0,37.4 212.0,37.3 218.0,37.3 224.0,37.2 230.0,37.1" fill="none" stroke="rgb(255,255,255)" stroke-width="1.7" opacity="0.8195135135135135" stroke-linejoin="round" stroke-linecap="round" /><polyline points="-4.0,42.7 2.0,42.6 8.0,42.5 14.0,42.5 20.0,42.5 26.0,42.5 32.0,42.5 38.0,42.6 44.0,42.6 50.0,42.7 56.0,42.8 62.0,42.9 68.0,42.9 74.0,42.9 80.0,42.9 86.0,42.9 92.0,42.9 98.0,42.8 104.0,42.7 110.0,42.6 116.0,42.6 122.0,42.5 128.0,42.5 134.0,42.5 140.0,42.5 146.0,42.5 152.0,42.6 158.0,42.7 164.0,42.8 170.0,42.8 176.0,42.9 182.0,42.9 188.0,42.9 194.0,42.9 200.0,42.9 206.0,42.8 212.0,42.8 218.0,42.7 224.0,42.6 230.0,42.5" fill="none" stroke="rgb(255,255,255)" stroke-width="1.7" opacity="0.8207027027027026" stroke-linejoin="round" stroke-linecap="round" /><polyline points="-4.0,48.1 2.0,48.0 8.0,48.0 14.0,48.0 20.0,48.0 26.0,48.1 32.0,48.1 38.0,48.2 44.0,48.3 50.0,48.4 56.0,48.4 62.0,48.5 68.0,48.5 74.0,48.5 80.0,48.4 86.0,48.4 92.0,48.3 98.0,48.2 104.0,48.1 110.0,48.1 116.0,48.0 122.0,48.0 128.0,48.0 134.0,48.0 140.0,48.1 146.0,48.2 152.0,48.2 158.0,48.3 164.0,48.4 170.0,48.4 176.0,48.5 182.0,48.5 188.0,48.5 194.0,48.4 200.0,48.3 206.0,48.3 212.0,48.2 218.0,48.1 224.0,48.0 230.0,48.0" fill="none" stroke="rgb(255,255,255)" stroke-width="1.7" opacity="0.7609189189189188" stroke-linejoin="round" stroke-linecap="round" /><polyline points="-4.0,53.6 2.0,53.5 8.0,53.5 14.0,53.6 20.0,53.6 26.0,53.7 32.0,53.8 38.0,53.9 44.0,53.9 50.0,54.0 56.0,54.0 62.0,54.0 68.0,54.0 74.0,53.9 80.0,53.9 86.0,53.8 92.0,53.7 98.0,53.6 104.0,53.6 110.0,53.5 116.0,53.5 122.0,53.5 128.0,53.6 134.0,53.7 140.0,53.7 146.0,53.8 152.0,53.9 158.0,53.9 164.0,54.0 170.0,54.0 176.0,54.0 182.0,54.0 188.0,53.9 194.0,53.8 200.0,53.8 206.0,53.7 212.0,53.6 218.0,53.6 224.0,53.5 230.0,53.5" fill="none" stroke="rgb(255,255,255)" stroke-width="1.7" opacity="0.701135135135135" stroke-linejoin="round" stroke-linecap="round" /><polyline points="-4.0,59.1 2.0,59.1 8.0,59.1 14.0,59.2 20.0,59.3 26.0,59.3 32.0,59.4 38.0,59.5 44.0,59.5 50.0,59.5 56.0,59.5 62.0,59.5 68.0,59.4 74.0,59.4 80.0,59.3 86.0,59.2 92.0,59.1 98.0,59.1 104.0,59.1 110.0,59.1 116.0,59.1 122.0,59.1 128.0,59.2 134.0,59.3 140.0,59.4 146.0,59.4 152.0,59.5 158.0,59.5 164.0,59.5 170.0,59.5 176.0,59.5 182.0,59.4 188.0,59.3 194.0,59.2 200.0,59.2 206.0,59.1 212.0,59.1 218.0,59.1 224.0,59.1 230.0,59.1" fill="none" stroke="rgb(255,255,255)" stroke-width="1.7" opacity="0.6413513513513512" stroke-linejoin="round" stroke-linecap="round" /><polyline points="-4.0,64.6 2.0,64.7 8.0,64.8 14.0,64.8 20.0,64.9 26.0,65.0 32.0,65.0 38.0,65.1 44.0,65.1 50.0,65.0 56.0,65.0 62.0,64.9 68.0,64.9 74.0,64.8 80.0,64.7 86.0,64.6 92.0,64.6 98.0,64.6 104.0,64.6 110.0,64.6 116.0,64.7 122.0,64.8 128.0,64.9 134.0,64.9 140.0,65.0 146.0,65.1 152.0,65.1 158.0,65.1 164.0,65.0 170.0,65.0 176.0,64.9 182.0,64.8 188.0,64.7 194.0,64.7 200.0,64.6 206.0,64.6 212.0,64.6 218.0,64.6 224.0,64.7 230.0,64.7" fill="none" stroke="rgb(255,255,255)" stroke-width="1.7" opacity="0.5815675675675673" stroke-linejoin="round" stroke-linecap="round" /><polyline points="-4.0,70.2 2.0,70.3 8.0,70.4 14.0,70.5 20.0,70.5 26.0,70.6 32.0,70.6 38.0,70.6 44.0,70.6 50.0,70.5 56.0,70.4 62.0,70.3 68.0,70.3 74.0,70.2 80.0,70.1 86.0,70.1 92.0,70.1 98.0,70.2 104.0,70.2 110.0,70.3 116.0,70.4 122.0,70.4 128.0,70.5 134.0,70.6 140.0,70.6 146.0,70.6 152.0,70.6 158.0,70.5 164.0,70.5 170.0,70.4 176.0,70.3 182.0,70.2 188.0,70.2 194.0,70.1 200.0,70.1 206.0,70.1 212.0,70.2 218.0,70.2 224.0,70.3 230.0,70.4" fill="none" stroke="rgb(255,255,255)" stroke-width="1.7" opacity="0.5217837837837838" stroke-linejoin="round" stroke-linecap="round" /></g><g filter="url(#spb2)"><rect x="0.0" y="14.0" width="223.0" height="50.0" fill="rgb(255,255,255)" opacity="0.1"/></g><ellipse cx="18.0" cy="70.0" rx="20.0" ry="9.0" fill="rgb(0,0,0)" opacity="0.4" filter="url(#b4)"/><ellipse cx="118.0" cy="70.0" rx="20.0" ry="9.0" fill="rgb(0,0,0)" opacity="0.4" filter="url(#b4)"/><ellipse cx="214.0" cy="70.0" rx="20.0" ry="9.0" fill="rgb(0,0,0)" opacity="0.4" filter="url(#b4)"/><ellipse cx="62.0" cy="42.0" rx="30.0" ry="12.0" fill="rgb(255,255,255)" opacity="0.08" filter="url(#b4)"/><ellipse cx="165.0" cy="42.0" rx="30.0" ry="12.0" fill="rgb(255,255,255)" opacity="0.08" filter="url(#b4)"/><ellipse cx="143.0" cy="47.0" rx="5.0" ry="1.0" fill="rgb(255,255,255)" opacity="0.4" filter="url(#b1)"/><ellipse cx="140.0" cy="57.0" rx="5.0" ry="1.0" fill="rgb(255,255,255)" opacity="0.4" filter="url(#b1)"/><ellipse cx="80.0" cy="37.0" rx="8.0" ry="1.0" fill="rgb(255,255,255)" opacity="0.3" filter="url(#b1)"/><ellipse cx="160.0" cy="37.0" rx="3.0" ry="1.3" fill="rgb(255,255,255)" opacity="0.4" filter="url(#b1)"/><ellipse cx="40.0" cy="36.0" rx="2.0" ry="1.5" fill="rgb(255,255,255)" opacity="0.35" filter="url(#b1)"/></g></g><g filter="url(#fc)"><g transform="translate(27,138.9)"><rect x="0.0" y="0.0" width="223.0" height="74.0" fill="rgb(48,48,48)" opacity="1"/><polygon points="-8.0,25.0 60.0,24.0 90.0,21.0 108.0,15.0 140.0,13.0 152.0,18.0 158.0,25.0 231.0,26.0 231.0,42.0 160.0,44.0 150.0,48.0 120.0,53.0 100.0,56.0 -8.0,56.0" fill="rgb(255,255,255)" opacity="0.09" filter="url(#b4)"/><polygon points="-8.0,30.0 60.0,29.0 90.0,27.0 100.0,25.0 100.0,51.0 -8.0,51.0" fill="rgb(255,255,255)" opacity="0.13" filter="url(#b3)"/><polygon points="98.0,25.0 108.0,20.0 140.0,18.0 150.0,22.0 156.0,28.0 156.0,41.0 150.0,43.0 120.0,46.0 98.0,50.0" fill="rgb(255,255,255)" opacity="0.1" filter="url(#b3)"/><polygon points="154.0,28.5 231.0,29.0 231.0,38.5 154.0,40.0" fill="rgb(255,255,255)" opacity="0.18" filter="url(#b2)"/><polygon points="-8.0,35.0 100.0,35.0 150.0,30.5 231.0,31.0 231.0,36.5 150.0,37.5 100.0,46.0 -8.0,46.0" fill="rgb(255,255,255)" opacity="0.12" filter="url(#b3)"/><g filter="url(#spc2)"><polygon points="-8.0,25.0 60.0,24.0 90.0,21.0 108.0,15.0 140.0,13.0 152.0,18.0 158.0,25.0 231.0,26.0 231.0,42.0 160.0,44.0 150.0,48.0 120.0,53.0 100.0,56.0 -8.0,56.0" fill="rgb(255,255,255)" opacity="0.18" filter="url(#b2)"/></g><g filter="url(#spc)"><polygon points="-8.0,30.0 60.0,29.0 90.0,27.0 100.0,25.0 100.0,51.0 -8.0,51.0" fill="rgb(255,255,255)" opacity="0.31" filter="url(#b2)"/><polygon points="98.0,25.0 108.0,20.0 140.0,18.0 150.0,22.0 156.0,28.0 156.0,41.0 150.0,43.0 120.0,46.0 98.0,50.0" fill="rgb(255,255,255)" opacity="0.24" filter="url(#b2)"/><polygon points="154.0,28.5 231.0,29.0 231.0,38.5 154.0,40.0" fill="rgb(255,255,255)" opacity="0.32" filter="url(#b1)"/></g><rect x="6.65" y="30.0" width="1.1" height="20.0" fill="rgb(255,255,255)" opacity="0.35" filter="url(#by2)"/><rect x="14.25" y="32.0" width="1.1" height="22.0" fill="rgb(255,255,255)" opacity="0.3" filter="url(#by2)"/><rect x="27.35" y="30.0" width="1.1" height="28.0" fill="rgb(255,255,255)" opacity="0.4" filter="url(#by2)"/><rect x="30.65" y="24.0" width="1.1" height="28.0" fill="rgb(255,255,255)" opacity="0.5" filter="url(#by2)"/><rect x="43.05" y="22.0" width="1.1" height="36.0" fill="rgb(255,255,255)" opacity="0.55" filter="url(#by2)"/><rect x="45.45" y="36.0" width="1.1" height="14.0" fill="rgb(255,255,255)" opacity="0.3" filter="url(#by2)"/><rect x="55.75" y="26.0" width="1.1" height="26.0" fill="rgb(255,255,255)" opacity="0.55" filter="url(#by2)"/><rect x="57.95" y="28.0" width="1.1" height="22.0" fill="rgb(255,255,255)" opacity="0.4" filter="url(#by2)"/><rect x="63.45" y="28.0" width="1.1" height="26.0" fill="rgb(255,255,255)" opacity="0.5" filter="url(#by2)"/><rect x="87.45" y="18.0" width="1.1" height="24.0" fill="rgb(255,255,255)" opacity="0.3" filter="url(#by2)"/><rect x="99.45" y="20.0" width="1.1" height="40.0" fill="rgb(255,255,255)" opacity="0.5" filter="url(#by2)"/><rect x="106.45" y="24.0" width="1.1" height="20.0" fill="rgb(255,255,255)" opacity="0.3" filter="url(#by2)"/><rect x="117.45" y="18.0" width="1.1" height="24.0" fill="rgb(255,255,255)" opacity="0.35" filter="url(#by2)"/><rect x="125.45" y="18.0" width="1.1" height="26.0" fill="rgb(255,255,255)" opacity="0.35" filter="url(#by2)"/><rect x="132.45" y="20.0" width="1.1" height="22.0" fill="rgb(255,255,255)" opacity="0.3" filter="url(#by2)"/><rect x="149.95" y="22.0" width="1.1" height="14.0" fill="rgb(255,255,255)" opacity="0.45" filter="url(#by2)"/><rect x="152.95" y="20.0" width="1.1" height="18.0" fill="rgb(255,255,255)" opacity="0.5" filter="url(#by2)"/><rect x="188.15" y="28.0" width="1.1" height="11.0" fill="rgb(255,255,255)" opacity="0.5" filter="url(#by2)"/><rect x="198.65" y="28.0" width="1.1" height="18.0" fill="rgb(255,255,255)" opacity="0.45" filter="url(#by2)"/><rect x="203.95" y="28.0" width="1.1" height="10.0" fill="rgb(255,255,255)" opacity="0.35" filter="url(#by2)"/><rect x="220.95" y="28.0" width="1.1" height="12.0" fill="rgb(255,255,255)" opacity="0.45" filter="url(#by2)"/></g></g><g filter="url(#fd)"><g transform="translate(318,138.9)"><rect x="0.0" y="0.0" width="223.0" height="74.0" fill="rgb(87,87,87)" opacity="1"/><rect x="0" y="0" width="223" height="74" fill="url(#gd)"/><rect x="-8.0" y="6.0" width="239.0" height="40.0" fill="rgb(255,255,255)" opacity="0.12" filter="url(#b5)"/><rect x="16.80" y="-3.0" width="1.4" height="80.0" fill="rgb(255,255,255)" opacity="0.3" filter="url(#b1)"/><rect x="24.50" y="-3.0" width="1.6" height="80.0" fill="rgb(255,255,255)" opacity="0.55" filter="url(#b1)"/><rect x="35.00" y="-3.0" width="1.8" height="80.0" fill="rgb(255,255,255)" opacity="0.45" filter="url(#b1)"/><rect x="38.10" y="-3.0" width="1.2" height="80.0" fill="rgb(255,255,255)" opacity="0.35" filter="url(#b1)"/><rect x="44.00" y="-3.0" width="2.8" height="80.0" fill="rgb(255,255,255)" opacity="0.32" filter="url(#b1)"/><rect x="49.50" y="-3.0" width="1" height="80.0" fill="rgb(255,255,255)" opacity="0.2" filter="url(#b1)"/><rect x="55.80" y="-3.0" width="1.4" height="80.0" fill="rgb(255,255,255)" opacity="0.3" filter="url(#b1)"/><rect x="61.50" y="-3.0" width="1" height="80.0" fill="rgb(255,255,255)" opacity="0.15" filter="url(#b1)"/><rect x="67.50" y="-3.0" width="1" height="80.0" fill="rgb(255,255,255)" opacity="0.15" filter="url(#b1)"/><rect x="73.50" y="-3.0" width="1" height="80.0" fill="rgb(255,255,255)" opacity="0.15" filter="url(#b1)"/><rect x="78.25" y="-3.0" width="1.5" height="80.0" fill="rgb(255,255,255)" opacity="0.2" filter="url(#b1)"/><rect x="83.60" y="-3.0" width="2.4" height="80.0" fill="rgb(255,255,255)" opacity="0.4" filter="url(#b1)"/><rect x="88.50" y="-3.0" width="1" height="80.0" fill="rgb(255,255,255)" opacity="0.25" filter="url(#b1)"/><rect x="95.80" y="-3.0" width="1.8" height="80.0" fill="rgb(255,255,255)" opacity="0.5" filter="url(#b1)"/><rect x="104.30" y="-3.0" width="1.4" height="80.0" fill="rgb(255,255,255)" opacity="0.4" filter="url(#b1)"/><rect x="111.60" y="-3.0" width="2" height="80.0" fill="rgb(255,255,255)" opacity="0.3" filter="url(#b1)"/><rect x="119.00" y="-3.0" width="1.4" height="80.0" fill="rgb(255,255,255)" opacity="0.25" filter="url(#b1)"/><rect x="126.30" y="-3.0" width="1" height="80.0" fill="rgb(255,255,255)" opacity="0.2" filter="url(#b1)"/><rect x="137.80" y="-3.0" width="1.6" height="80.0" fill="rgb(255,255,255)" opacity="0.42" filter="url(#b1)"/><rect x="140.80" y="-3.0" width="1.4" height="80.0" fill="rgb(255,255,255)" opacity="0.4" filter="url(#b1)"/><rect x="149.90" y="-3.0" width="2.6" height="80.0" fill="rgb(255,255,255)" opacity="0.55" filter="url(#b1)"/><rect x="157.50" y="-3.0" width="1" height="80.0" fill="rgb(255,255,255)" opacity="0.15" filter="url(#b1)"/><rect x="163.50" y="-3.0" width="1" height="80.0" fill="rgb(255,255,255)" opacity="0.15" filter="url(#b1)"/><rect x="169.80" y="-3.0" width="1.6" height="80.0" fill="rgb(255,255,255)" opacity="0.4" filter="url(#b1)"/><rect x="177.50" y="-3.0" width="1" height="80.0" fill="rgb(255,255,255)" opacity="0.15" filter="url(#b1)"/><rect x="184.50" y="-3.0" width="1.4" height="80.0" fill="rgb(255,255,255)" opacity="0.4" filter="url(#b1)"/><rect x="192.50" y="-3.0" width="1" height="80.0" fill="rgb(255,255,255)" opacity="0.15" filter="url(#b1)"/><rect x="199.20" y="-3.0" width="1.8" height="80.0" fill="rgb(255,255,255)" opacity="0.3" filter="url(#b1)"/><rect x="205.30" y="-3.0" width="1.4" height="80.0" fill="rgb(255,255,255)" opacity="0.35" filter="url(#b1)"/><rect x="210.50" y="-3.0" width="1" height="80.0" fill="rgb(255,255,255)" opacity="0.2" filter="url(#b1)"/><rect x="214.75" y="-3.0" width="1.5" height="80.0" fill="rgb(255,255,255)" opacity="0.4" filter="url(#b1)"/><rect x="218.50" y="-3.0" width="1" height="80.0" fill="rgb(255,255,255)" opacity="0.25" filter="url(#b1)"/><rect x="7.50" y="-3.0" width="1" height="80.0" fill="rgb(255,255,255)" opacity="0.15" filter="url(#b1)"/><rect x="11.50" y="-3.0" width="1" height="80.0" fill="rgb(255,255,255)" opacity="0.12" filter="url(#b1)"/><rect x="29.50" y="-3.0" width="1" height="80.0" fill="rgb(255,255,255)" opacity="0.15" filter="url(#b1)"/><rect x="129.50" y="-3.0" width="1" height="80.0" fill="rgb(255,255,255)" opacity="0.15" filter="url(#b1)"/><rect x="145.50" y="-3.0" width="1" height="80.0" fill="rgb(255,255,255)" opacity="0.2" filter="url(#b1)"/><rect x="24.50" y="8.0" width="1.6" height="30.0" fill="rgb(255,255,255)" opacity="0.18" filter="url(#by)"/><rect x="35.10" y="8.0" width="1.6" height="30.0" fill="rgb(255,255,255)" opacity="0.22" filter="url(#by)"/><rect x="44.60" y="8.0" width="1.6" height="30.0" fill="rgb(255,255,255)" opacity="0.18" filter="url(#by)"/><rect x="84.00" y="8.0" width="1.6" height="30.0" fill="rgb(255,255,255)" opacity="0.18" filter="url(#by)"/><rect x="95.90" y="8.0" width="1.6" height="30.0" fill="rgb(255,255,255)" opacity="0.2" filter="url(#by)"/><rect x="150.40" y="8.0" width="1.6" height="30.0" fill="rgb(255,255,255)" opacity="0.3" filter="url(#by)"/><rect x="199.30" y="8.0" width="1.6" height="30.0" fill="rgb(255,255,255)" opacity="0.15" filter="url(#by)"/><rect x="214.70" y="8.0" width="1.6" height="30.0" fill="rgb(255,255,255)" opacity="0.18" filter="url(#by)"/><rect x="0" y="0" width="223" height="74" fill="url(#gd)"/><ellipse cx="126.8" cy="34.0" rx="0.9" ry="5.5" fill="rgb(255,255,255)" opacity="0.95" filter="url(#b0)"/><ellipse cx="93.0" cy="32.0" rx="1.0" ry="4.0" fill="rgb(255,255,255)" opacity="0.55" filter="url(#b0)"/><ellipse cx="89.0" cy="32.0" rx="0.8" ry="3.0" fill="rgb(255,255,255)" opacity="0.35" filter="url(#b0)"/><rect x="-5.0" y="36.6" width="233.0" height="0.9" fill="rgb(0,0,0)" opacity="0.2"/></g></g><g filter="url(#fe)"><g transform="translate(27,273.7)"><rect x="0.0" y="0.0" width="223.0" height="74.0" fill="rgb(15,15,15)" opacity="1"/><polyline points="-3.0,37.0 3.0,36.5 8.0,34.0 11.0,30.0 15.0,25.0 22.4,26.5 33.6,28.5 41.0,30.0 46.0,34.0 51.0,41.0 54.7,44.5 61.5,47.0 70.8,48.5 77.0,49.0 79.3,40.0 81.6,33.0 83.6,25.0 90.0,26.5 99.6,28.5 106.0,30.0 110.3,34.0 114.6,41.0 117.8,44.5 123.7,47.0 131.7,48.5 137.0,49.0 139.4,40.0 141.9,33.0 144.0,25.0 149.8,26.5 158.6,28.5 164.4,30.0 168.2,34.0 172.1,41.0 175.0,44.5 180.4,47.0 187.7,48.5 192.5,49.0 194.6,40.0 196.7,33.0 198.5,25.0 204.7,26.5 213.9,28.5 220.1,30.0 224.2,34.0 228.4,41.0 231.5,44.5 237.1,47.0 244.8,48.5 250.0,49.0 252.1,40.0 254.2,33.0 256.0,25.0" fill="none" stroke="rgb(255,255,255)" stroke-width="48" opacity="0.08" stroke-linejoin="round" stroke-linecap="round" filter="url(#b6)" /><polyline points="-3.0,37.0 3.0,36.5 8.0,34.0 11.0,30.0 15.0,25.0 22.4,26.5 33.6,28.5 41.0,30.0 46.0,34.0 51.0,41.0 54.7,44.5 61.5,47.0 70.8,48.5 77.0,49.0 79.3,40.0 81.6,33.0 83.6,25.0 90.0,26.5 99.6,28.5 106.0,30.0 110.3,34.0 114.6,41.0 117.8,44.5 123.7,47.0 131.7,48.5 137.0,49.0 139.4,40.0 141.9,33.0 144.0,25.0 149.8,26.5 158.6,28.5 164.4,30.0 168.2,34.0 172.1,41.0 175.0,44.5 180.4,47.0 187.7,48.5 192.5,49.0 194.6,40.0 196.7,33.0 198.5,25.0 204.7,26.5 213.9,28.5 220.1,30.0 224.2,34.0 228.4,41.0 231.5,44.5 237.1,47.0 244.8,48.5 250.0,49.0 252.1,40.0 254.2,33.0 256.0,25.0" fill="none" stroke="rgb(255,255,255)" stroke-width="30" opacity="0.1" stroke-linejoin="round" stroke-linecap="round" filter="url(#b5)" /><polyline points="-3.0,37.0 3.0,36.5 8.0,34.0 11.0,30.0 15.0,25.0 22.4,26.5 33.6,28.5 41.0,30.0 46.0,34.0 51.0,41.0 54.7,44.5 61.5,47.0 70.8,48.5 77.0,49.0 79.3,40.0 81.6,33.0 83.6,25.0 90.0,26.5 99.6,28.5 106.0,30.0 110.3,34.0 114.6,41.0 117.8,44.5 123.7,47.0 131.7,48.5 137.0,49.0 139.4,40.0 141.9,33.0 144.0,25.0 149.8,26.5 158.6,28.5 164.4,30.0 168.2,34.0 172.1,41.0 175.0,44.5 180.4,47.0 187.7,48.5 192.5,49.0 194.6,40.0 196.7,33.0 198.5,25.0 204.7,26.5 213.9,28.5 220.1,30.0 224.2,34.0 228.4,41.0 231.5,44.5 237.1,47.0 244.8,48.5 250.0,49.0 252.1,40.0 254.2,33.0 256.0,25.0" fill="none" stroke="rgb(255,255,255)" stroke-width="12" opacity="0.17" stroke-linejoin="round" stroke-linecap="round" filter="url(#b3)" /><rect x="5.0" y="-10.0" width="17.0" height="94.0" fill="rgb(255,255,255)" opacity="0.15" filter="url(#b4)"/><rect x="12.40" y="-5.0" width="1.2" height="84.0" fill="rgb(255,255,255)" opacity="0.18" filter="url(#b1)"/><rect x="73.3" y="-10.0" width="17.0" height="94.0" fill="rgb(255,255,255)" opacity="0.15" filter="url(#b4)"/><rect x="80.70" y="-5.0" width="1.2" height="84.0" fill="rgb(255,255,255)" opacity="0.18" filter="url(#b1)"/><rect x="133.5" y="-10.0" width="17.0" height="94.0" fill="rgb(255,255,255)" opacity="0.15" filter="url(#b4)"/><rect x="140.90" y="-5.0" width="1.2" height="84.0" fill="rgb(255,255,255)" opacity="0.18" filter="url(#b1)"/><rect x="188.5" y="-10.0" width="17.0" height="94.0" fill="rgb(255,255,255)" opacity="0.15" filter="url(#b4)"/><rect x="195.90" y="-5.0" width="1.2" height="84.0" fill="rgb(255,255,255)" opacity="0.18" filter="url(#b1)"/><rect x="246.0" y="-10.0" width="17.0" height="94.0" fill="rgb(255,255,255)" opacity="0.15" filter="url(#b4)"/><rect x="253.40" y="-5.0" width="1.2" height="84.0" fill="rgb(255,255,255)" opacity="0.18" filter="url(#b1)"/><g filter="url(#spe2)"><polyline points="-3.0,37.0 3.0,36.5 8.0,34.0 11.0,30.0 15.0,25.0 22.4,26.5 33.6,28.5 41.0,30.0 46.0,34.0 51.0,41.0 54.7,44.5 61.5,47.0 70.8,48.5 77.0,49.0 79.3,40.0 81.6,33.0 83.6,25.0 90.0,26.5 99.6,28.5 106.0,30.0 110.3,34.0 114.6,41.0 117.8,44.5 123.7,47.0 131.7,48.5 137.0,49.0 139.4,40.0 141.9,33.0 144.0,25.0 149.8,26.5 158.6,28.5 164.4,30.0 168.2,34.0 172.1,41.0 175.0,44.5 180.4,47.0 187.7,48.5 192.5,49.0 194.6,40.0 196.7,33.0 198.5,25.0 204.7,26.5 213.9,28.5 220.1,30.0 224.2,34.0 228.4,41.0 231.5,44.5 237.1,47.0 244.8,48.5 250.0,49.0 252.1,40.0 254.2,33.0 256.0,25.0" fill="none" stroke="rgb(255,255,255)" stroke-width="40" opacity="0.25" stroke-linejoin="round" stroke-linecap="round" filter="url(#b4)" /></g><rect x="8.00" y="-5.0" width="2" height="84.0" fill="rgb(255,255,255)" opacity="0.2" filter="url(#b1)"/><rect x="-5.0" y="35.8" width="233.0" height="2.4" fill="rgb(255,255,255)" opacity="0.26" filter="url(#b1)"/><rect x="-5.0" y="36.5" width="233.0" height="1.0" fill="rgb(255,255,255)" opacity="0.2" filter="url(#b0)"/><polyline points="-3.0,37.0 3.0,36.5 8.0,34.0 11.0,30.0 15.0,25.0 22.4,26.5 33.6,28.5 41.0,30.0 46.0,34.0 51.0,41.0 54.7,44.5 61.5,47.0 70.8,48.5 77.0,49.0 79.3,40.0 81.6,33.0 83.6,25.0 90.0,26.5 99.6,28.5 106.0,30.0 110.3,34.0 114.6,41.0 117.8,44.5 123.7,47.0 131.7,48.5 137.0,49.0 139.4,40.0 141.9,33.0 144.0,25.0 149.8,26.5 158.6,28.5 164.4,30.0 168.2,34.0 172.1,41.0 175.0,44.5 180.4,47.0 187.7,48.5 192.5,49.0 194.6,40.0 196.7,33.0 198.5,25.0 204.7,26.5 213.9,28.5 220.1,30.0 224.2,34.0 228.4,41.0 231.5,44.5 237.1,47.0 244.8,48.5 250.0,49.0 252.1,40.0 254.2,33.0 256.0,25.0" fill="none" stroke="rgb(255,255,255)" stroke-width="4.5" opacity="0.18" stroke-linejoin="round" stroke-linecap="round" filter="url(#b2)" /><g filter="url(#spe)"><polyline points="-3.0,37.0 3.0,36.5 8.0,34.0 11.0,30.0 15.0,25.0 22.4,26.5 33.6,28.5 41.0,30.0 46.0,34.0 51.0,41.0 54.7,44.5 61.5,47.0 70.8,48.5 77.0,49.0 79.3,40.0 81.6,33.0 83.6,25.0 90.0,26.5 99.6,28.5 106.0,30.0 110.3,34.0 114.6,41.0 117.8,44.5 123.7,47.0 131.7,48.5 137.0,49.0 139.4,40.0 141.9,33.0 144.0,25.0 149.8,26.5 158.6,28.5 164.4,30.0 168.2,34.0 172.1,41.0 175.0,44.5 180.4,47.0 187.7,48.5 192.5,49.0 194.6,40.0 196.7,33.0 198.5,25.0 204.7,26.5 213.9,28.5 220.1,30.0 224.2,34.0 228.4,41.0 231.5,44.5 237.1,47.0 244.8,48.5 250.0,49.0 252.1,40.0 254.2,33.0 256.0,25.0" fill="none" stroke="rgb(255,255,255)" stroke-width="1.6" opacity="0.4" stroke-linejoin="round" stroke-linecap="round" /><polyline points="-3.0,37.0 3.0,36.5 8.0,34.0 11.0,30.0 15.0,25.0 22.4,26.5 33.6,28.5 41.0,30.0" fill="none" stroke="rgb(255,255,255)" stroke-width="2.0" opacity="0.6" stroke-linejoin="round" stroke-linecap="round" /><polyline points="77.0,49.0 79.3,40.0 81.6,33.0 83.6,25.0 90.0,26.5 99.6,28.5 106.0,30.0" fill="none" stroke="rgb(255,255,255)" stroke-width="2.0" opacity="0.6" stroke-linejoin="round" stroke-linecap="round" /><polyline points="137.0,49.0 139.4,40.0 141.9,33.0 144.0,25.0 149.8,26.5 158.6,28.5 164.4,30.0" fill="none" stroke="rgb(255,255,255)" stroke-width="2.0" opacity="0.6" stroke-linejoin="round" stroke-linecap="round" /><polyline points="192.5,49.0 194.6,40.0 196.7,33.0 198.5,25.0 204.7,26.5 213.9,28.5 220.1,30.0" fill="none" stroke="rgb(255,255,255)" stroke-width="2.0" opacity="0.6" stroke-linejoin="round" stroke-linecap="round" /><polyline points="54.7,44.5 61.5,47.0 70.8,48.5 77.0,49.0" fill="none" stroke="rgb(255,255,255)" stroke-width="2.0" opacity="0.5" stroke-linejoin="round" stroke-linecap="round" /><polyline points="117.8,44.5 123.7,47.0 131.7,48.5 137.0,49.0" fill="none" stroke="rgb(255,255,255)" stroke-width="2.0" opacity="0.5" stroke-linejoin="round" stroke-linecap="round" /><polyline points="175.0,44.5 180.4,47.0 187.7,48.5 192.5,49.0" fill="none" stroke="rgb(255,255,255)" stroke-width="2.0" opacity="0.5" stroke-linejoin="round" stroke-linecap="round" /><polyline points="231.5,44.5 237.1,47.0 244.8,48.5 250.0,49.0" fill="none" stroke="rgb(255,255,255)" stroke-width="2.0" opacity="0.5" stroke-linejoin="round" stroke-linecap="round" /></g><polyline points="0.0,37.0 4.0,36.5 8.0,34.0 11.0,30.0 15.0,25.0" fill="none" stroke="rgb(255,255,255)" stroke-width="2.6" opacity="0.5" stroke-linejoin="round" stroke-linecap="round" filter="url(#b1)" /><polyline points="2.0,39.0 5.0,45.0 9.0,49.0 11.0,57.0" fill="none" stroke="rgb(255,255,255)" stroke-width="1.5" opacity="0.3" stroke-linejoin="round" stroke-linecap="round" filter="url(#b1)" /></g></g><g filter="url(#ff)"><g transform="translate(318,273.7)"><rect x="0.0" y="0.0" width="223.0" height="74.0" fill="rgb(66,66,66)" opacity="1"/><rect x="0" y="0" width="223" height="74" fill="url(#gf)"/><polyline points="-10.0,45.0 -6.7,48.5 -2.0,50.0 1.0,50.0 2.8,39.0 4.4,31.0 5.6,25.0 9.3,24.0 13.0,26.0 18.0,27.5" fill="none" stroke="rgb(255,255,255)" stroke-width="9" opacity="0.16" stroke-linejoin="round" stroke-linecap="round" filter="url(#b3)" /><rect x="-1.7" y="-5.0" width="12.0" height="84.0" fill="rgb(255,255,255)" opacity="0.16" filter="url(#b3)"/><polyline points="41.0,45.0 45.6,48.5 53.5,50.0 56.5,50.0 58.3,39.0 59.9,31.0 61.0,25.0 65.2,24.0 69.4,26.0 75.0,27.5" fill="none" stroke="rgb(255,255,255)" stroke-width="9" opacity="0.16" stroke-linejoin="round" stroke-linecap="round" filter="url(#b3)" /><rect x="53.8" y="-5.0" width="12.0" height="84.0" fill="rgb(255,255,255)" opacity="0.16" filter="url(#b3)"/><polyline points="81.0,45.0 85.3,48.5 92.5,50.0 95.5,50.0 97.3,39.0 98.9,31.0 100.0,25.0 104.5,24.0 109.0,26.0 115.0,27.5" fill="none" stroke="rgb(255,255,255)" stroke-width="9" opacity="0.16" stroke-linejoin="round" stroke-linecap="round" filter="url(#b3)" /><rect x="92.8" y="-5.0" width="12.0" height="84.0" fill="rgb(255,255,255)" opacity="0.16" filter="url(#b3)"/><polyline points="135.0,45.0 140.4,48.5 150.0,50.0 153.0,50.0 157.6,39.0 161.7,31.0 164.6,25.0 171.0,24.0 177.4,26.0 186.0,27.5" fill="none" stroke="rgb(255,255,255)" stroke-width="9" opacity="0.16" stroke-linejoin="round" stroke-linecap="round" filter="url(#b3)" /><rect x="153.8" y="-5.0" width="12.0" height="84.0" fill="rgb(255,255,255)" opacity="0.16" filter="url(#b3)"/><g filter="url(#spf)"><rect x="-5.0" y="2.0" width="233.0" height="1.6" fill="rgb(255,255,255)" opacity="0.3675675675675674"/><rect x="-5.0" y="7.7" width="233.0" height="1.6" fill="rgb(255,255,255)" opacity="0.43652702702702695"/><rect x="-5.0" y="13.3" width="233.0" height="1.6" fill="rgb(255,255,255)" opacity="0.5054864864864864"/><rect x="-5.0" y="19.0" width="233.0" height="1.6" fill="rgb(255,255,255)" opacity="0.5744459459459459"/><rect x="-5.0" y="24.7" width="233.0" height="1.6" fill="rgb(255,255,255)" opacity="0.6434054054054054"/><rect x="-5.0" y="30.4" width="233.0" height="1.6" fill="rgb(255,255,255)" opacity="0.7123648648648648"/><rect x="-5.0" y="36.0" width="233.0" height="1.6" fill="rgb(255,255,255)" opacity="0.7813243243243242"/><rect x="-5.0" y="41.7" width="233.0" height="1.6" fill="rgb(255,255,255)" opacity="0.7897162162162162"/><rect x="-5.0" y="47.4" width="233.0" height="1.6" fill="rgb(255,255,255)" opacity="0.7207567567567568"/><rect x="-5.0" y="53.0" width="233.0" height="1.6" fill="rgb(255,255,255)" opacity="0.6517972972972973"/><rect x="-5.0" y="58.7" width="233.0" height="1.6" fill="rgb(255,255,255)" opacity="0.5828378378378378"/><rect x="-5.0" y="64.4" width="233.0" height="1.6" fill="rgb(255,255,255)" opacity="0.5138783783783782"/><rect x="-5.0" y="70.0" width="233.0" height="1.6" fill="rgb(255,255,255)" opacity="0.444918918918919"/></g><g filter="url(#spf3)"><polyline points="-10.0,45.0 -6.7,48.5 -2.0,50.0 1.0,50.0 2.8,39.0 4.4,31.0 5.6,25.0 9.3,24.0 13.0,26.0 18.0,27.5" fill="none" stroke="rgb(255,255,255)" stroke-width="9" opacity="0.32" stroke-linejoin="round" stroke-linecap="round" filter="url(#b2)" /><polyline points="41.0,45.0 45.6,48.5 53.5,50.0 56.5,50.0 58.3,39.0 59.9,31.0 61.0,25.0 65.2,24.0 69.4,26.0 75.0,27.5" fill="none" stroke="rgb(255,255,255)" stroke-width="9" opacity="0.32" stroke-linejoin="round" stroke-linecap="round" filter="url(#b2)" /><polyline points="81.0,45.0 85.3,48.5 92.5,50.0 95.5,50.0 97.3,39.0 98.9,31.0 100.0,25.0 104.5,24.0 109.0,26.0 115.0,27.5" fill="none" stroke="rgb(255,255,255)" stroke-width="9" opacity="0.32" stroke-linejoin="round" stroke-linecap="round" filter="url(#b2)" /><polyline points="135.0,45.0 140.4,48.5 150.0,50.0 153.0,50.0 157.6,39.0 161.7,31.0 164.6,25.0 171.0,24.0 177.4,26.0 186.0,27.5" fill="none" stroke="rgb(255,255,255)" stroke-width="9" opacity="0.32" stroke-linejoin="round" stroke-linecap="round" filter="url(#b2)" /></g><g filter="url(#spf2)"><polyline points="-10.0,45.0 -6.7,48.5 -2.0,50.0 1.0,50.0" fill="none" stroke="rgb(255,255,255)" stroke-width="2.2" opacity="0.5" stroke-linejoin="round" stroke-linecap="round" /><polyline points="1.0,50.0 2.8,39.0 4.4,31.0 5.6,25.0" fill="none" stroke="rgb(255,255,255)" stroke-width="2.4" opacity="0.6" stroke-linejoin="round" stroke-linecap="round" /><polyline points="5.6,25.0 9.3,24.0 13.0,26.0 18.0,27.5" fill="none" stroke="rgb(255,255,255)" stroke-width="1.8" opacity="0.4" stroke-linejoin="round" stroke-linecap="round" /><rect x="6.1" y="19.0" width="1.0" height="7.0" fill="rgb(255,255,255)" opacity="0.5"/><rect x="8.6" y="21.0" width="1.0" height="7.0" fill="rgb(255,255,255)" opacity="0.5"/><rect x="11.1" y="19.0" width="1.0" height="7.0" fill="rgb(255,255,255)" opacity="0.5"/><rect x="13.5" y="21.0" width="1.0" height="7.0" fill="rgb(255,255,255)" opacity="0.5"/><rect x="16.0" y="19.0" width="1.0" height="7.0" fill="rgb(255,255,255)" opacity="0.5"/><polyline points="41.0,45.0 45.6,48.5 53.5,50.0 56.5,50.0" fill="none" stroke="rgb(255,255,255)" stroke-width="2.2" opacity="0.5" stroke-linejoin="round" stroke-linecap="round" /><polyline points="56.5,50.0 58.3,39.0 59.9,31.0 61.0,25.0" fill="none" stroke="rgb(255,255,255)" stroke-width="2.4" opacity="0.6" stroke-linejoin="round" stroke-linecap="round" /><polyline points="61.0,25.0 65.2,24.0 69.4,26.0 75.0,27.5" fill="none" stroke="rgb(255,255,255)" stroke-width="1.8" opacity="0.4" stroke-linejoin="round" stroke-linecap="round" /><rect x="61.5" y="19.0" width="1.0" height="7.0" fill="rgb(255,255,255)" opacity="0.5"/><rect x="64.3" y="21.0" width="1.0" height="7.0" fill="rgb(255,255,255)" opacity="0.5"/><rect x="67.1" y="19.0" width="1.0" height="7.0" fill="rgb(255,255,255)" opacity="0.5"/><rect x="69.9" y="21.0" width="1.0" height="7.0" fill="rgb(255,255,255)" opacity="0.5"/><rect x="72.7" y="19.0" width="1.0" height="7.0" fill="rgb(255,255,255)" opacity="0.5"/><polyline points="81.0,45.0 85.3,48.5 92.5,50.0 95.5,50.0" fill="none" stroke="rgb(255,255,255)" stroke-width="2.2" opacity="0.5" stroke-linejoin="round" stroke-linecap="round" /><polyline points="95.5,50.0 97.3,39.0 98.9,31.0 100.0,25.0" fill="none" stroke="rgb(255,255,255)" stroke-width="2.4" opacity="0.6" stroke-linejoin="round" stroke-linecap="round" /><polyline points="100.0,25.0 104.5,24.0 109.0,26.0 115.0,27.5" fill="none" stroke="rgb(255,255,255)" stroke-width="1.8" opacity="0.4" stroke-linejoin="round" stroke-linecap="round" /><rect x="100.5" y="19.0" width="1.0" height="7.0" fill="rgb(255,255,255)" opacity="0.5"/><rect x="103.5" y="21.0" width="1.0" height="7.0" fill="rgb(255,255,255)" opacity="0.5"/><rect x="106.5" y="19.0" width="1.0" height="7.0" fill="rgb(255,255,255)" opacity="0.5"/><rect x="109.5" y="21.0" width="1.0" height="7.0" fill="rgb(255,255,255)" opacity="0.5"/><rect x="112.5" y="19.0" width="1.0" height="7.0" fill="rgb(255,255,255)" opacity="0.5"/><polyline points="135.0,45.0 140.4,48.5 150.0,50.0 153.0,50.0" fill="none" stroke="rgb(255,255,255)" stroke-width="2.2" opacity="0.5" stroke-linejoin="round" stroke-linecap="round" /><polyline points="153.0,50.0 157.6,39.0 161.7,31.0 164.6,25.0" fill="none" stroke="rgb(255,255,255)" stroke-width="2.4" opacity="0.6" stroke-linejoin="round" stroke-linecap="round" /><polyline points="164.6,25.0 171.0,24.0 177.4,26.0 186.0,27.5" fill="none" stroke="rgb(255,255,255)" stroke-width="1.8" opacity="0.4" stroke-linejoin="round" stroke-linecap="round" /><rect x="165.1" y="19.0" width="1.0" height="7.0" fill="rgb(255,255,255)" opacity="0.5"/><rect x="169.4" y="21.0" width="1.0" height="7.0" fill="rgb(255,255,255)" opacity="0.5"/><rect x="173.7" y="19.0" width="1.0" height="7.0" fill="rgb(255,255,255)" opacity="0.5"/><rect x="177.9" y="21.0" width="1.0" height="7.0" fill="rgb(255,255,255)" opacity="0.5"/><rect x="182.2" y="19.0" width="1.0" height="7.0" fill="rgb(255,255,255)" opacity="0.5"/></g><rect x="26.50" y="29.0" width="1" height="16.0" fill="rgb(255,255,255)" opacity="0.5" filter="url(#b0)"/><ellipse cx="21.0" cy="36.0" rx="1.5" ry="1.8" fill="rgb(255,255,255)" opacity="0.5" filter="url(#b1)"/><ellipse cx="44.0" cy="36.5" rx="8.0" ry="0.9" fill="rgb(255,255,255)" opacity="0.4" filter="url(#b0)"/><ellipse cx="72.0" cy="37.0" rx="8.0" ry="0.9" fill="rgb(255,255,255)" opacity="0.3" filter="url(#b0)"/><ellipse cx="130.0" cy="37.0" rx="8.0" ry="0.9" fill="rgb(255,255,255)" opacity="0.3" filter="url(#b0)"/><ellipse cx="172.0" cy="42.5" rx="3.0" ry="1.0" fill="rgb(255,255,255)" opacity="0.4" filter="url(#b0)"/></g></g><g filter="url(#fg)"><g transform="translate(27,408.3)"><rect x="0.0" y="0.0" width="223.0" height="74.0" fill="rgb(54,54,54)" opacity="1"/><rect x="-8.0" y="20.0" width="239.0" height="34.0" fill="rgb(255,255,255)" opacity="0.13" filter="url(#b6)"/><polyline points="-30.0,44.5 -10.0,44.5 27.0,44.5 30.2,37.0 33.4,28.5 52.0,29.0 56.4,37.0 60.7,45.0 79.0,44.5 82.4,37.0 85.8,28.5 108.7,29.0 112.8,37.0 117.0,45.0 131.0,44.5 134.8,37.0 138.5,28.5 155.0,29.0 157.7,37.0 160.4,45.0 178.0,44.5 181.8,37.0 185.5,28.5 204.0,29.0 208.5,37.0 213.0,45.0 232.0,44.5 235.5,37.0 239.0,28.5 260.0,29.0 264.0,37.0 268.0,45.0" fill="none" stroke="rgb(255,255,255)" stroke-width="34" opacity="0.1" stroke-linejoin="round" stroke-linecap="round" filter="url(#b6)" /><polyline points="-30.0,44.5 -10.0,44.5 27.0,44.5 30.2,37.0 33.4,28.5 52.0,29.0 56.4,37.0 60.7,45.0 79.0,44.5 82.4,37.0 85.8,28.5 108.7,29.0 112.8,37.0 117.0,45.0 131.0,44.5 134.8,37.0 138.5,28.5 155.0,29.0 157.7,37.0 160.4,45.0 178.0,44.5 181.8,37.0 185.5,28.5 204.0,29.0 208.5,37.0 213.0,45.0 232.0,44.5 235.5,37.0 239.0,28.5 260.0,29.0 264.0,37.0 268.0,45.0" fill="none" stroke="rgb(255,255,255)" stroke-width="18" opacity="0.14" stroke-linejoin="round" stroke-linecap="round" filter="url(#b5)" /><polyline points="-30.0,44.5 -10.0,44.5 27.0,44.5 30.2,37.0 33.4,28.5 52.0,29.0 56.4,37.0 60.7,45.0 79.0,44.5 82.4,37.0 85.8,28.5 108.7,29.0 112.8,37.0 117.0,45.0 131.0,44.5 134.8,37.0 138.5,28.5 155.0,29.0 157.7,37.0 160.4,45.0 178.0,44.5 181.8,37.0 185.5,28.5 204.0,29.0 208.5,37.0 213.0,45.0 232.0,44.5 235.5,37.0 239.0,28.5 260.0,29.0 264.0,37.0 268.0,45.0" fill="none" stroke="rgb(255,255,255)" stroke-width="9" opacity="0.1" stroke-linejoin="round" stroke-linecap="round" filter="url(#b3)" /><rect x="-28.0" y="-10.0" width="31.0" height="94.0" fill="rgb(255,255,255)" opacity="0.13" filter="url(#b5)"/><rect x="24.0" y="-10.0" width="29.0" height="94.0" fill="rgb(255,255,255)" opacity="0.13" filter="url(#b5)"/><rect x="76.0" y="-10.0" width="33.7" height="94.0" fill="rgb(255,255,255)" opacity="0.13" filter="url(#b5)"/><rect x="128.0" y="-10.0" width="28.0" height="94.0" fill="rgb(255,255,255)" opacity="0.13" filter="url(#b5)"/><rect x="175.0" y="-10.0" width="30.0" height="94.0" fill="rgb(255,255,255)" opacity="0.13" filter="url(#b5)"/><rect x="229.0" y="-10.0" width="32.0" height="94.0" fill="rgb(255,255,255)" opacity="0.13" filter="url(#b5)"/><g filter="url(#spg2)"><polyline points="-30.0,44.5 -10.0,44.5 27.0,44.5 30.2,37.0 33.4,28.5 52.0,29.0 56.4,37.0 60.7,45.0 79.0,44.5 82.4,37.0 85.8,28.5 108.7,29.0 112.8,37.0 117.0,45.0 131.0,44.5 134.8,37.0 138.5,28.5 155.0,29.0 157.7,37.0 160.4,45.0 178.0,44.5 181.8,37.0 185.5,28.5 204.0,29.0 208.5,37.0 213.0,45.0 232.0,44.5 235.5,37.0 239.0,28.5 260.0,29.0 264.0,37.0 268.0,45.0" fill="none" stroke="rgb(255,255,255)" stroke-width="30" opacity="0.24" stroke-linejoin="round" stroke-linecap="round" filter="url(#b4)" /></g><rect x="-5.0" y="35.9" width="233.0" height="2.2" fill="rgb(255,255,255)" opacity="0.42" filter="url(#b1)"/><polyline points="-30.0,44.5 -10.0,44.5 27.0,44.5 30.2,37.0 33.4,28.5 52.0,29.0 56.4,37.0 60.7,45.0 79.0,44.5 82.4,37.0 85.8,28.5 108.7,29.0 112.8,37.0 117.0,45.0 131.0,44.5 134.8,37.0 138.5,28.5 155.0,29.0 157.7,37.0 160.4,45.0 178.0,44.5 181.8,37.0 185.5,28.5 204.0,29.0 208.5,37.0 213.0,45.0 232.0,44.5 235.5,37.0 239.0,28.5 260.0,29.0 264.0,37.0 268.0,45.0" fill="none" stroke="rgb(255,255,255)" stroke-width="4" opacity="0.1" stroke-linejoin="round" stroke-linecap="round" filter="url(#b2)" /><g filter="url(#spg)"><polyline points="-30.0,44.5 -10.0,44.5 27.0,44.5 30.2,37.0 33.4,28.5 52.0,29.0 56.4,37.0 60.7,45.0 79.0,44.5 82.4,37.0 85.8,28.5 108.7,29.0 112.8,37.0 117.0,45.0 131.0,44.5 134.8,37.0 138.5,28.5 155.0,29.0 157.7,37.0 160.4,45.0 178.0,44.5 181.8,37.0 185.5,28.5 204.0,29.0 208.5,37.0 213.0,45.0 232.0,44.5 235.5,37.0 239.0,28.5 260.0,29.0 264.0,37.0 268.0,45.0" fill="none" stroke="rgb(255,255,255)" stroke-width="2.6" opacity="0.7" stroke-linejoin="round" stroke-linecap="round" /></g><g filter="url(#spg2)"><polyline points="-30.0,44.5 -10.0,44.5 27.0,44.5 30.2,37.0 33.4,28.5 52.0,29.0 56.4,37.0 60.7,45.0 79.0,44.5 82.4,37.0 85.8,28.5 108.7,29.0 112.8,37.0 117.0,45.0 131.0,44.5 134.8,37.0 138.5,28.5 155.0,29.0 157.7,37.0 160.4,45.0 178.0,44.5 181.8,37.0 185.5,28.5 204.0,29.0 208.5,37.0 213.0,45.0 232.0,44.5 235.5,37.0 239.0,28.5 260.0,29.0 264.0,37.0 268.0,45.0" fill="none" stroke="rgb(255,255,255)" stroke-width="8" opacity="0.2" stroke-linejoin="round" stroke-linecap="round" filter="url(#b2)" /></g></g></g><g filter="url(#fh)"><g transform="translate(318,408.3)"><rect x="0.0" y="0.0" width="223.0" height="74.0" fill="rgb(84,84,84)" opacity="1"/><rect x="0" y="0" width="223" height="74" fill="url(#gh)"/><rect x="-8.0" y="8.0" width="239.0" height="36.0" fill="rgb(255,255,255)" opacity="0.08" filter="url(#b5)"/><rect x="20.0" y="0.0" width="50.0" height="50.0" fill="rgb(255,255,255)" opacity="0.1" filter="url(#b6)"/><rect x="4.90" y="-3.0" width="1.4" height="80.0" fill="rgb(255,255,255)" opacity="0.35" filter="url(#b1)"/><rect x="12.10" y="-3.0" width="1.2" height="80.0" fill="rgb(255,255,255)" opacity="0.25" filter="url(#b1)"/><rect x="19.10" y="-3.0" width="1.4" height="80.0" fill="rgb(255,255,255)" opacity="0.3" filter="url(#b1)"/><rect x="25.60" y="-3.0" width="1.6" height="80.0" fill="rgb(255,255,255)" opacity="0.5" filter="url(#b1)"/><rect x="35.65" y="-3.0" width="1.5" height="80.0" fill="rgb(255,255,255)" opacity="0.42" filter="url(#b1)"/><rect x="39.50" y="-3.0" width="1" height="80.0" fill="rgb(255,255,255)" opacity="0.2" filter="url(#b1)"/><rect x="48.00" y="-3.0" width="2.8" height="80.0" fill="rgb(255,255,255)" opacity="0.4" filter="url(#b1)"/><rect x="53.50" y="-3.0" width="1" height="80.0" fill="rgb(255,255,255)" opacity="0.2" filter="url(#b1)"/><rect x="59.30" y="-3.0" width="1.4" height="80.0" fill="rgb(255,255,255)" opacity="0.25" filter="url(#b1)"/><rect x="69.50" y="-3.0" width="1" height="80.0" fill="rgb(255,255,255)" opacity="0.15" filter="url(#b1)"/><rect x="80.55" y="-3.0" width="1.5" height="80.0" fill="rgb(255,255,255)" opacity="0.3" filter="url(#b1)"/><rect x="85.50" y="-3.0" width="1" height="80.0" fill="rgb(255,255,255)" opacity="0.2" filter="url(#b1)"/><rect x="91.50" y="-3.0" width="1" height="80.0" fill="rgb(255,255,255)" opacity="0.15" filter="url(#b1)"/><rect x="103.60" y="-3.0" width="1.6" height="80.0" fill="rgb(255,255,255)" opacity="0.45" filter="url(#b1)"/><rect x="108.50" y="-3.0" width="1" height="80.0" fill="rgb(255,255,255)" opacity="0.25" filter="url(#b1)"/><rect x="115.50" y="-3.0" width="1" height="80.0" fill="rgb(255,255,255)" opacity="0.15" filter="url(#b1)"/><rect x="121.50" y="-3.0" width="1" height="80.0" fill="rgb(255,255,255)" opacity="0.15" filter="url(#b1)"/><rect x="139.50" y="-3.0" width="1" height="80.0" fill="rgb(255,255,255)" opacity="0.15" filter="url(#b1)"/><rect x="149.50" y="-3.0" width="1" height="80.0" fill="rgb(255,255,255)" opacity="0.2" filter="url(#b1)"/><rect x="154.50" y="-3.0" width="1" height="80.0" fill="rgb(255,255,255)" opacity="0.25" filter="url(#b1)"/><rect x="160.20" y="-3.0" width="1.6" height="80.0" fill="rgb(255,255,255)" opacity="0.45" filter="url(#b1)"/><rect x="166.40" y="-3.0" width="1.2" height="80.0" fill="rgb(255,255,255)" opacity="0.3" filter="url(#b1)"/><rect x="171.50" y="-3.0" width="1" height="80.0" fill="rgb(255,255,255)" opacity="0.15" filter="url(#b1)"/><rect x="179.40" y="-3.0" width="1.2" height="80.0" fill="rgb(255,255,255)" opacity="0.25" filter="url(#b1)"/><rect x="184.50" y="-3.0" width="1" height="80.0" fill="rgb(255,255,255)" opacity="0.2" filter="url(#b1)"/><rect x="190.40" y="-3.0" width="1.2" height="80.0" fill="rgb(255,255,255)" opacity="0.25" filter="url(#b1)"/><rect x="197.50" y="-3.0" width="1" height="80.0" fill="rgb(255,255,255)" opacity="0.15" filter="url(#b1)"/><rect x="204.50" y="-3.0" width="1" height="80.0" fill="rgb(255,255,255)" opacity="0.15" filter="url(#b1)"/><rect x="216.00" y="-3.0" width="1.4" height="80.0" fill="rgb(255,255,255)" opacity="0.45" filter="url(#b1)"/><rect x="220.50" y="-3.0" width="1" height="80.0" fill="rgb(255,255,255)" opacity="0.25" filter="url(#b1)"/><rect x="1.50" y="-3.0" width="1" height="80.0" fill="rgb(255,255,255)" opacity="0.15" filter="url(#b1)"/><rect x="31.50" y="-3.0" width="1" height="80.0" fill="rgb(255,255,255)" opacity="0.15" filter="url(#b1)"/><rect x="65.50" y="-3.0" width="1" height="80.0" fill="rgb(255,255,255)" opacity="0.15" filter="url(#b1)"/><rect x="74.50" y="-3.0" width="1" height="80.0" fill="rgb(255,255,255)" opacity="0.15" filter="url(#b1)"/><rect x="0" y="0" width="223" height="74" fill="url(#gh)"/><rect x="103.90" y="-3.0" width="1.0" height="80.0" fill="rgb(255,255,255)" opacity="0.2" filter="url(#b0)"/><rect x="160.50" y="-3.0" width="1.0" height="80.0" fill="rgb(255,255,255)" opacity="0.2" filter="url(#b0)"/><ellipse cx="26.4" cy="32.0" rx="1.0" ry="6.5" fill="rgb(255,255,255)" opacity="0.7" filter="url(#b0)"/><ellipse cx="167.0" cy="30.0" rx="0.9" ry="4.0" fill="rgb(255,255,255)" opacity="0.45" filter="url(#b0)"/><ellipse cx="191.0" cy="32.0" rx="1.1" ry="4.0" fill="rgb(255,255,255)" opacity="0.3" filter="url(#b0)"/><rect x="-5.0" y="36.6" width="233.0" height="0.8" fill="rgb(0,0,0)" opacity="0.1"/><polyline points="55.3,12.8 56.2,10.0 57.0,8.0 59.0,4.0 61.2,0.5" fill="none" stroke="rgb(255,255,255)" stroke-width="10" opacity="0.14" stroke-linejoin="round" stroke-linecap="round" filter="url(#b4)" /><polyline points="55.3,12.8 56.2,10.0 57.0,8.0 59.0,4.0" fill="none" stroke="rgb(255,255,255)" stroke-width="6" opacity="0.16" stroke-linejoin="round" stroke-linecap="round" filter="url(#b3)" /><polyline points="55.3,12.8 56.2,10.0 57.0,8.0 59.0,4.0 61.2,0.5" fill="none" stroke="rgb(255,255,255)" stroke-width="3.5" opacity="0.2" stroke-linejoin="round" stroke-linecap="round" filter="url(#b2)" /><g filter="url(#sph)"><polyline points="55.3,12.8 56.2,10.0 57.0,8.0" fill="none" stroke="rgb(255,255,255)" stroke-width="2.4" opacity="0.48" stroke-linejoin="round" stroke-linecap="round" /><polyline points="57.0,8.0 59.0,4.0 61.2,0.5" fill="none" stroke="rgb(255,255,255)" stroke-width="1.4" opacity="0.42" stroke-linejoin="round" stroke-linecap="round" /></g><polyline points="80.5,70.0 83.0,62.0 86.0,53.0 88.0,43.0 89.6,34.0 91.2,26.0 93.0,17.5 95.4,11.0 97.8,8.0" fill="none" stroke="rgb(255,255,255)" stroke-width="10" opacity="0.14" stroke-linejoin="round" stroke-linecap="round" filter="url(#b4)" /><polyline points="80.5,70.0 83.0,62.0 86.0,53.0 88.0,43.0 89.6,34.0 91.2,26.0" fill="none" stroke="rgb(255,255,255)" stroke-width="6" opacity="0.16" stroke-linejoin="round" stroke-linecap="round" filter="url(#b3)" /><polyline points="80.5,70.0 83.0,62.0 86.0,53.0 88.0,43.0 89.6,34.0 91.2,26.0 93.0,17.5 95.4,11.0 97.8,8.0" fill="none" stroke="rgb(255,255,255)" stroke-width="3.5" opacity="0.2" stroke-linejoin="round" stroke-linecap="round" filter="url(#b2)" /><g filter="url(#sph)"><polyline points="80.5,70.0 83.0,62.0 86.0,53.0 88.0,43.0 89.6,34.0" fill="none" stroke="rgb(255,255,255)" stroke-width="2.4" opacity="0.68" stroke-linejoin="round" stroke-linecap="round" /><polyline points="89.6,34.0 91.2,26.0 93.0,17.5 95.4,11.0 97.8,8.0" fill="none" stroke="rgb(255,255,255)" stroke-width="1.4" opacity="0.595" stroke-linejoin="round" stroke-linecap="round" /></g><polyline points="122.8,72.0 124.5,67.1 126.3,59.0 128.0,50.5 129.7,41.0 131.5,31.5 133.0,24.0 135.0,17.5 137.5,12.5 139.8,9.9" fill="none" stroke="rgb(255,255,255)" stroke-width="10" opacity="0.14" stroke-linejoin="round" stroke-linecap="round" filter="url(#b4)" /><polyline points="122.8,72.0 124.5,67.1 126.3,59.0 128.0,50.5 129.7,41.0 131.5,31.5 133.0,24.0" fill="none" stroke="rgb(255,255,255)" stroke-width="6" opacity="0.16" stroke-linejoin="round" stroke-linecap="round" filter="url(#b3)" /><polyline points="122.8,72.0 124.5,67.1 126.3,59.0 128.0,50.5 129.7,41.0 131.5,31.5 133.0,24.0 135.0,17.5 137.5,12.5 139.8,9.9" fill="none" stroke="rgb(255,255,255)" stroke-width="3.5" opacity="0.2" stroke-linejoin="round" stroke-linecap="round" filter="url(#b2)" /><g filter="url(#sph)"><polyline points="122.8,72.0 124.5,67.1 126.3,59.0 128.0,50.5 129.7,41.0 131.5,31.5" fill="none" stroke="rgb(255,255,255)" stroke-width="2.4" opacity="0.68" stroke-linejoin="round" stroke-linecap="round" /><polyline points="131.5,31.5 133.0,24.0 135.0,17.5 137.5,12.5 139.8,9.9" fill="none" stroke="rgb(255,255,255)" stroke-width="1.4" opacity="0.595" stroke-linejoin="round" stroke-linecap="round" /></g><polyline points="112.0,72.0 117.0,71.0 121.0,68.0" fill="none" stroke="rgb(255,255,255)" stroke-width="4" opacity="0.25" stroke-linejoin="round" stroke-linecap="round" filter="url(#b2)" /><polyline points="72.0,72.0 76.0,71.0 79.0,68.0" fill="none" stroke="rgb(255,255,255)" stroke-width="4" opacity="0.2" stroke-linejoin="round" stroke-linecap="round" filter="url(#b2)" /></g></g>
<g><text x="49.3" y="85.8" text-anchor="middle" font-size="4.8">1</text><text x="71.6" y="85.8" text-anchor="middle" font-size="4.8">2</text><text x="93.9" y="85.8" text-anchor="middle" font-size="4.8">3</text><text x="116.2" y="85.8" text-anchor="middle" font-size="4.8">4</text><text x="138.5" y="85.8" text-anchor="middle" font-size="4.8">5</text><text x="160.8" y="85.8" text-anchor="middle" font-size="4.8">6</text><text x="183.1" y="85.8" text-anchor="middle" font-size="4.8">7</text><text x="205.4" y="85.8" text-anchor="middle" font-size="4.8">8</text><text x="227.7" y="85.8" text-anchor="middle" font-size="4.8">9</text><text x="250.0" y="85.8" text-anchor="middle" font-size="4.8">10</text><text x="25.2" y="13.5" text-anchor="end" font-size="4.8">150</text><text x="25.2" y="27.8" text-anchor="end" font-size="4.8">200</text><text x="25.2" y="42.2" text-anchor="end" font-size="4.8">250</text><text x="25.2" y="56.5" text-anchor="end" font-size="4.8">300</text><text x="25.2" y="70.9" text-anchor="end" font-size="4.8">350</text><text x="138.5" y="92.3" text-anchor="middle">Time index</text><text transform="translate(13.8,41.6) rotate(-90)" text-anchor="middle">Doppler Bin index</text><text x="239.5" y="93.5" font-size="4.4">×10<tspan dy="-1.8" font-size="3.4">4</tspan></text><text class="cap" x="131.6" y="112.1" text-anchor="middle">(<tspan font-weight="bold">a</tspan>)</text><text x="340.3" y="85.8" text-anchor="middle" font-size="4.8">1</text><text x="362.6" y="85.8" text-anchor="middle" font-size="4.8">2</text><text x="384.9" y="85.8" text-anchor="middle" font-size="4.8">3</text><text x="407.2" y="85.8" text-anchor="middle" font-size="4.8">4</text><text x="429.5" y="85.8" text-anchor="middle" font-size="4.8">5</text><text x="451.8" y="85.8" text-anchor="middle" font-size="4.8">6</text><text x="474.1" y="85.8" text-anchor="middle" font-size="4.8">7</text><text x="496.4" y="85.8" text-anchor="middle" font-size="4.8">8</text><text x="518.7" y="85.8" text-anchor="middle" font-size="4.8">9</text><text x="541.0" y="85.8" text-anchor="middle" font-size="4.8">10</text><text x="316.2" y="13.5" text-anchor="end" font-size="4.8">150</text><text x="316.2" y="27.8" text-anchor="end" font-size="4.8">200</text><text x="316.2" y="42.2" text-anchor="end" font-size="4.8">250</text><text x="316.2" y="56.5" text-anchor="end" font-size="4.8">300</text><text x="316.2" y="70.9" text-anchor="end" font-size="4.8">350</text><text x="429.5" y="92.3" text-anchor="middle">Time index</text><text transform="translate(304.8,41.6) rotate(-90)" text-anchor="middle">Doppler Bin index</text><text x="530.5" y="93.5" font-size="4.4">×10<tspan dy="-1.8" font-size="3.4">4</tspan></text><text class="cap" x="422.6" y="112.1" text-anchor="middle">(<tspan font-weight="bold">b</tspan>)</text><text x="49.3" y="220.1" text-anchor="middle" font-size="4.8">1</text><text x="71.6" y="220.1" text-anchor="middle" font-size="4.8">2</text><text x="93.9" y="220.1" text-anchor="middle" font-size="4.8">3</text><text x="116.2" y="220.1" text-anchor="middle" font-size="4.8">4</text><text x="138.5" y="220.1" text-anchor="middle" font-size="4.8">5</text><text x="160.8" y="220.1" text-anchor="middle" font-size="4.8">6</text><text x="183.1" y="220.1" text-anchor="middle" font-size="4.8">7</text><text x="205.4" y="220.1" text-anchor="middle" font-size="4.8">8</text><text x="227.7" y="220.1" text-anchor="middle" font-size="4.8">9</text><text x="250.0" y="220.1" text-anchor="middle" font-size="4.8">10</text><text x="25.2" y="147.8" text-anchor="end" font-size="4.8">150</text><text x="25.2" y="162.2" text-anchor="end" font-size="4.8">200</text><text x="25.2" y="176.5" text-anchor="end" font-size="4.8">250</text><text x="25.2" y="190.8" text-anchor="end" font-size="4.8">300</text><text x="25.2" y="205.2" text-anchor="end" font-size="4.8">350</text><text x="138.5" y="226.6" text-anchor="middle">Time index</text><text transform="translate(13.8,175.9) rotate(-90)" text-anchor="middle">Doppler Bin index</text><text x="239.5" y="227.8" font-size="4.4">×10<tspan dy="-1.8" font-size="3.4">4</tspan></text><text class="cap" x="131.6" y="246.4" text-anchor="middle">(<tspan font-weight="bold">c</tspan>)</text><text x="340.3" y="220.1" text-anchor="middle" font-size="4.8">1</text><text x="362.6" y="220.1" text-anchor="middle" font-size="4.8">2</text><text x="384.9" y="220.1" text-anchor="middle" font-size="4.8">3</text><text x="407.2" y="220.1" text-anchor="middle" font-size="4.8">4</text><text x="429.5" y="220.1" text-anchor="middle" font-size="4.8">5</text><text x="451.8" y="220.1" text-anchor="middle" font-size="4.8">6</text><text x="474.1" y="220.1" text-anchor="middle" font-size="4.8">7</text><text x="496.4" y="220.1" text-anchor="middle" font-size="4.8">8</text><text x="518.7" y="220.1" text-anchor="middle" font-size="4.8">9</text><text x="541.0" y="220.1" text-anchor="middle" font-size="4.8">10</text><text x="316.2" y="147.8" text-anchor="end" font-size="4.8">150</text><text x="316.2" y="162.2" text-anchor="end" font-size="4.8">200</text><text x="316.2" y="176.5" text-anchor="end" font-size="4.8">250</text><text x="316.2" y="190.8" text-anchor="end" font-size="4.8">300</text><text x="316.2" y="205.2" text-anchor="end" font-size="4.8">350</text><text x="429.5" y="226.6" text-anchor="middle">Time index</text><text transform="translate(304.8,175.9) rotate(-90)" text-anchor="middle">Doppler Bin index</text><text x="530.5" y="227.8" font-size="4.4">×10<tspan dy="-1.8" font-size="3.4">4</tspan></text><text class="cap" x="422.6" y="246.4" text-anchor="middle">(<tspan font-weight="bold">d</tspan>)</text><text x="49.3" y="354.9" text-anchor="middle" font-size="4.8">1</text><text x="71.6" y="354.9" text-anchor="middle" font-size="4.8">2</text><text x="93.9" y="354.9" text-anchor="middle" font-size="4.8">3</text><text x="116.2" y="354.9" text-anchor="middle" font-size="4.8">4</text><text x="138.5" y="354.9" text-anchor="middle" font-size="4.8">5</text><text x="160.8" y="354.9" text-anchor="middle" font-size="4.8">6</text><text x="183.1" y="354.9" text-anchor="middle" font-size="4.8">7</text><text x="205.4" y="354.9" text-anchor="middle" font-size="4.8">8</text><text x="227.7" y="354.9" text-anchor="middle" font-size="4.8">9</text><text x="250.0" y="354.9" text-anchor="middle" font-size="4.8">10</text><text x="25.2" y="282.6" text-anchor="end" font-size="4.8">150</text><text x="25.2" y="296.9" text-anchor="end" font-size="4.8">200</text><text x="25.2" y="311.3" text-anchor="end" font-size="4.8">250</text><text x="25.2" y="325.6" text-anchor="end" font-size="4.8">300</text><text x="25.2" y="340.0" text-anchor="end" font-size="4.8">350</text><text x="138.5" y="361.4" text-anchor="middle">Time Index</text><text transform="translate(13.8,310.7) rotate(-90)" text-anchor="middle">Doppler Bin Index</text><text x="239.5" y="362.6" font-size="4.4">×10<tspan dy="-1.8" font-size="3.4">4</tspan></text><text class="cap" x="131.6" y="381.2" text-anchor="middle">(<tspan font-weight="bold">e</tspan>)</text><text x="340.3" y="354.9" text-anchor="middle" font-size="4.8">1</text><text x="362.6" y="354.9" text-anchor="middle" font-size="4.8">2</text><text x="384.9" y="354.9" text-anchor="middle" font-size="4.8">3</text><text x="407.2" y="354.9" text-anchor="middle" font-size="4.8">4</text><text x="429.5" y="354.9" text-anchor="middle" font-size="4.8">5</text><text x="451.8" y="354.9" text-anchor="middle" font-size="4.8">6</text><text x="474.1" y="354.9" text-anchor="middle" font-size="4.8">7</text><text x="496.4" y="354.9" text-anchor="middle" font-size="4.8">8</text><text x="518.7" y="354.9" text-anchor="middle" font-size="4.8">9</text><text x="541.0" y="354.9" text-anchor="middle" font-size="4.8">10</text><text x="316.2" y="282.6" text-anchor="end" font-size="4.8">150</text><text x="316.2" y="296.9" text-anchor="end" font-size="4.8">200</text><text x="316.2" y="311.3" text-anchor="end" font-size="4.8">250</text><text x="316.2" y="325.6" text-anchor="end" font-size="4.8">300</text><text x="316.2" y="340.0" text-anchor="end" font-size="4.8">350</text><text x="429.5" y="361.4" text-anchor="middle">Time Index</text><text transform="translate(304.8,310.7) rotate(-90)" text-anchor="middle">Doppler Bin Index</text><text x="530.5" y="362.6" font-size="4.4">×10<tspan dy="-1.8" font-size="3.4">4</tspan></text><text class="cap" x="422.6" y="381.2" text-anchor="middle">(<tspan font-weight="bold">f</tspan>)</text><text x="49.3" y="489.5" text-anchor="middle" font-size="4.8">1</text><text x="71.6" y="489.5" text-anchor="middle" font-size="4.8">2</text><text x="93.9" y="489.5" text-anchor="middle" font-size="4.8">3</text><text x="116.2" y="489.5" text-anchor="middle" font-size="4.8">4</text><text x="138.5" y="489.5" text-anchor="middle" font-size="4.8">5</text><text x="160.8" y="489.5" text-anchor="middle" font-size="4.8">6</text><text x="183.1" y="489.5" text-anchor="middle" font-size="4.8">7</text><text x="205.4" y="489.5" text-anchor="middle" font-size="4.8">8</text><text x="227.7" y="489.5" text-anchor="middle" font-size="4.8">9</text><text x="250.0" y="489.5" text-anchor="middle" font-size="4.8">10</text><text x="25.2" y="417.2" text-anchor="end" font-size="4.8">150</text><text x="25.2" y="431.6" text-anchor="end" font-size="4.8">200</text><text x="25.2" y="445.9" text-anchor="end" font-size="4.8">250</text><text x="25.2" y="460.2" text-anchor="end" font-size="4.8">300</text><text x="25.2" y="474.6" text-anchor="end" font-size="4.8">350</text><text x="138.5" y="496.0" text-anchor="middle">Time Index</text><text transform="translate(13.8,445.3) rotate(-90)" text-anchor="middle">Doppler Bin Index</text><text x="239.5" y="497.2" font-size="4.4">×10<tspan dy="-1.8" font-size="3.4">4</tspan></text><text class="cap" x="131.6" y="515.8" text-anchor="middle">(<tspan font-weight="bold">g</tspan>)</text><text x="340.3" y="489.5" text-anchor="middle" font-size="4.8">1</text><text x="362.6" y="489.5" text-anchor="middle" font-size="4.8">2</text><text x="384.9" y="489.5" text-anchor="middle" font-size="4.8">3</text><text x="407.2" y="489.5" text-anchor="middle" font-size="4.8">4</text><text x="429.5" y="489.5" text-anchor="middle" font-size="4.8">5</text><text x="451.8" y="489.5" text-anchor="middle" font-size="4.8">6</text><text x="474.1" y="489.5" text-anchor="middle" font-size="4.8">7</text><text x="496.4" y="489.5" text-anchor="middle" font-size="4.8">8</text><text x="518.7" y="489.5" text-anchor="middle" font-size="4.8">9</text><text x="541.0" y="489.5" text-anchor="middle" font-size="4.8">10</text><text x="316.2" y="417.2" text-anchor="end" font-size="4.8">150</text><text x="316.2" y="431.6" text-anchor="end" font-size="4.8">200</text><text x="316.2" y="445.9" text-anchor="end" font-size="4.8">250</text><text x="316.2" y="460.2" text-anchor="end" font-size="4.8">300</text><text x="316.2" y="474.6" text-anchor="end" font-size="4.8">350</text><text x="429.5" y="496.0" text-anchor="middle">Time Index</text><text transform="translate(304.8,445.3) rotate(-90)" text-anchor="middle">Doppler Bin Index</text><text x="530.5" y="497.2" font-size="4.4">×10<tspan dy="-1.8" font-size="3.4">4</tspan></text><text class="cap" x="422.6" y="515.8" text-anchor="middle">(<tspan font-weight="bold">h</tspan>)</text></g>
</svg>
</body></html>
